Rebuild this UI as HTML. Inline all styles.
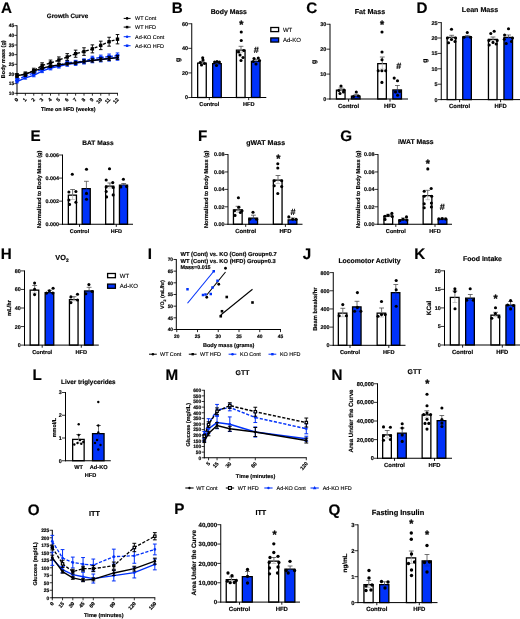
<!DOCTYPE html>
<html lang="en"><head><meta charset="utf-8"><title>Figure</title>
<style>
html,body{margin:0;padding:0;background:#fff;}
svg{display:block;}
text{font-family:"Liberation Sans",sans-serif;font-weight:700;stroke:#000;stroke-width:.17px;text-rendering:geometricPrecision;}
text.r{font-weight:400;stroke-width:.12px;}
</style></head><body>
<svg width="520" height="619" viewBox="0 0 520 619">
<defs><filter id="soft" x="0" y="0" width="520" height="619" filterUnits="userSpaceOnUse"><feGaussianBlur stdDeviation="0.37"/></filter></defs>
<rect width="520" height="619" fill="#fff"/>
<g filter="url(#soft)">
<text x="1" y="12.74" font-size="15.2" text-anchor="start">A</text>
<text x="67.5" y="17.75" font-size="6.28" text-anchor="middle">Growth Curve</text>
<line x1="14.4" y1="93.3" x2="17" y2="93.3" stroke="#000" stroke-width="0.8"/>
<text x="14.3" y="95.05" font-size="4.9" text-anchor="end">10</text>
<line x1="14.4" y1="83.64" x2="17" y2="83.64" stroke="#000" stroke-width="0.8"/>
<text x="14.3" y="85.39" font-size="4.9" text-anchor="end">15</text>
<line x1="14.4" y1="73.98" x2="17" y2="73.98" stroke="#000" stroke-width="0.8"/>
<text x="14.3" y="75.73" font-size="4.9" text-anchor="end">20</text>
<line x1="14.4" y1="64.32" x2="17" y2="64.32" stroke="#000" stroke-width="0.8"/>
<text x="14.3" y="66.07" font-size="4.9" text-anchor="end">25</text>
<line x1="14.4" y1="54.66" x2="17" y2="54.66" stroke="#000" stroke-width="0.8"/>
<text x="14.3" y="56.41" font-size="4.9" text-anchor="end">30</text>
<line x1="14.4" y1="45" x2="17" y2="45" stroke="#000" stroke-width="0.8"/>
<text x="14.3" y="46.75" font-size="4.9" text-anchor="end">35</text>
<line x1="14.4" y1="35.34" x2="17" y2="35.34" stroke="#000" stroke-width="0.8"/>
<text x="14.3" y="37.09" font-size="4.9" text-anchor="end">40</text>
<line x1="14.4" y1="25.68" x2="17" y2="25.68" stroke="#000" stroke-width="0.8"/>
<text x="14.3" y="27.43" font-size="4.9" text-anchor="end">45</text>
<line x1="17" y1="25.28" x2="17" y2="93.8" stroke="#000" stroke-width="1"/>
<line x1="16.5" y1="93.3" x2="118" y2="93.3" stroke="#000" stroke-width="1"/>
<line x1="17" y1="93.3" x2="17" y2="95.7" stroke="#000" stroke-width="0.8"/>
<text x="17.3" y="100.36" font-size="5.2" text-anchor="end" transform="rotate(-48 17.3 98.5)">0</text>
<line x1="25.38" y1="93.3" x2="25.38" y2="95.7" stroke="#000" stroke-width="0.8"/>
<text x="25.68" y="100.36" font-size="5.2" text-anchor="end" transform="rotate(-48 25.68 98.5)">1</text>
<line x1="33.75" y1="93.3" x2="33.75" y2="95.7" stroke="#000" stroke-width="0.8"/>
<text x="34.05" y="100.36" font-size="5.2" text-anchor="end" transform="rotate(-48 34.05 98.5)">2</text>
<line x1="42.12" y1="93.3" x2="42.12" y2="95.7" stroke="#000" stroke-width="0.8"/>
<text x="42.42" y="100.36" font-size="5.2" text-anchor="end" transform="rotate(-48 42.42 98.5)">3</text>
<line x1="50.5" y1="93.3" x2="50.5" y2="95.7" stroke="#000" stroke-width="0.8"/>
<text x="50.8" y="100.36" font-size="5.2" text-anchor="end" transform="rotate(-48 50.8 98.5)">4</text>
<line x1="58.88" y1="93.3" x2="58.88" y2="95.7" stroke="#000" stroke-width="0.8"/>
<text x="59.17" y="100.36" font-size="5.2" text-anchor="end" transform="rotate(-48 59.17 98.5)">5</text>
<line x1="67.25" y1="93.3" x2="67.25" y2="95.7" stroke="#000" stroke-width="0.8"/>
<text x="67.55" y="100.36" font-size="5.2" text-anchor="end" transform="rotate(-48 67.55 98.5)">6</text>
<line x1="75.62" y1="93.3" x2="75.62" y2="95.7" stroke="#000" stroke-width="0.8"/>
<text x="75.92" y="100.36" font-size="5.2" text-anchor="end" transform="rotate(-48 75.92 98.5)">7</text>
<line x1="84" y1="93.3" x2="84" y2="95.7" stroke="#000" stroke-width="0.8"/>
<text x="84.3" y="100.36" font-size="5.2" text-anchor="end" transform="rotate(-48 84.3 98.5)">8</text>
<line x1="92.38" y1="93.3" x2="92.38" y2="95.7" stroke="#000" stroke-width="0.8"/>
<text x="92.67" y="100.36" font-size="5.2" text-anchor="end" transform="rotate(-48 92.67 98.5)">9</text>
<line x1="100.75" y1="93.3" x2="100.75" y2="95.7" stroke="#000" stroke-width="0.8"/>
<text x="101.05" y="100.36" font-size="5.2" text-anchor="end" transform="rotate(-48 101.05 98.5)">10</text>
<line x1="109.12" y1="93.3" x2="109.12" y2="95.7" stroke="#000" stroke-width="0.8"/>
<text x="109.42" y="100.36" font-size="5.2" text-anchor="end" transform="rotate(-48 109.42 98.5)">11</text>
<line x1="117.5" y1="93.3" x2="117.5" y2="95.7" stroke="#000" stroke-width="0.8"/>
<text x="117.8" y="100.36" font-size="5.2" text-anchor="end" transform="rotate(-48 117.8 98.5)">12</text>
<text x="2.9" y="61.26" font-size="5.47" text-anchor="middle" transform="rotate(-90 2.9 59.3)">Body mass (g)</text>
<text x="68.3" y="111.03" font-size="5.4" text-anchor="middle">Time on HFD (weeks)</text>
<line x1="17" y1="80.54" x2="17" y2="82.88" stroke="#0230fa" stroke-width="0.95"/>
<line x1="15.2" y1="80.54" x2="18.8" y2="80.54" stroke="#0230fa" stroke-width="0.95"/>
<line x1="15.2" y1="82.88" x2="18.8" y2="82.88" stroke="#0230fa" stroke-width="0.95"/>
<line x1="25.38" y1="76.55" x2="25.38" y2="79.14" stroke="#0230fa" stroke-width="0.95"/>
<line x1="23.57" y1="76.55" x2="27.18" y2="76.55" stroke="#0230fa" stroke-width="0.95"/>
<line x1="23.57" y1="79.14" x2="27.18" y2="79.14" stroke="#0230fa" stroke-width="0.95"/>
<line x1="33.75" y1="73.91" x2="33.75" y2="76.76" stroke="#0230fa" stroke-width="0.95"/>
<line x1="31.95" y1="73.91" x2="35.55" y2="73.91" stroke="#0230fa" stroke-width="0.95"/>
<line x1="31.95" y1="76.76" x2="35.55" y2="76.76" stroke="#0230fa" stroke-width="0.95"/>
<line x1="42.12" y1="69.53" x2="42.12" y2="72.63" stroke="#0230fa" stroke-width="0.95"/>
<line x1="40.33" y1="69.53" x2="43.92" y2="69.53" stroke="#0230fa" stroke-width="0.95"/>
<line x1="40.33" y1="72.63" x2="43.92" y2="72.63" stroke="#0230fa" stroke-width="0.95"/>
<line x1="50.5" y1="66.51" x2="50.5" y2="69.86" stroke="#0230fa" stroke-width="0.95"/>
<line x1="48.7" y1="66.51" x2="52.3" y2="66.51" stroke="#0230fa" stroke-width="0.95"/>
<line x1="48.7" y1="69.86" x2="52.3" y2="69.86" stroke="#0230fa" stroke-width="0.95"/>
<line x1="58.88" y1="64.45" x2="58.88" y2="68.06" stroke="#0230fa" stroke-width="0.95"/>
<line x1="57.08" y1="64.45" x2="60.67" y2="64.45" stroke="#0230fa" stroke-width="0.95"/>
<line x1="57.08" y1="68.06" x2="60.67" y2="68.06" stroke="#0230fa" stroke-width="0.95"/>
<line x1="67.25" y1="62.39" x2="67.25" y2="66.25" stroke="#0230fa" stroke-width="0.95"/>
<line x1="65.45" y1="62.39" x2="69.05" y2="62.39" stroke="#0230fa" stroke-width="0.95"/>
<line x1="65.45" y1="66.25" x2="69.05" y2="66.25" stroke="#0230fa" stroke-width="0.95"/>
<line x1="75.62" y1="61.29" x2="75.62" y2="65.42" stroke="#0230fa" stroke-width="0.95"/>
<line x1="73.83" y1="61.29" x2="77.42" y2="61.29" stroke="#0230fa" stroke-width="0.95"/>
<line x1="73.83" y1="65.42" x2="77.42" y2="65.42" stroke="#0230fa" stroke-width="0.95"/>
<line x1="84" y1="59.62" x2="84" y2="64" stroke="#0230fa" stroke-width="0.95"/>
<line x1="82.2" y1="59.62" x2="85.8" y2="59.62" stroke="#0230fa" stroke-width="0.95"/>
<line x1="82.2" y1="64" x2="85.8" y2="64" stroke="#0230fa" stroke-width="0.95"/>
<line x1="92.38" y1="58.14" x2="92.38" y2="62.77" stroke="#0230fa" stroke-width="0.95"/>
<line x1="90.58" y1="58.14" x2="94.17" y2="58.14" stroke="#0230fa" stroke-width="0.95"/>
<line x1="90.58" y1="62.77" x2="94.17" y2="62.77" stroke="#0230fa" stroke-width="0.95"/>
<line x1="100.75" y1="57.05" x2="100.75" y2="61.93" stroke="#0230fa" stroke-width="0.95"/>
<line x1="98.95" y1="57.05" x2="102.55" y2="57.05" stroke="#0230fa" stroke-width="0.95"/>
<line x1="98.95" y1="61.93" x2="102.55" y2="61.93" stroke="#0230fa" stroke-width="0.95"/>
<line x1="109.12" y1="55.95" x2="109.12" y2="61.1" stroke="#0230fa" stroke-width="0.95"/>
<line x1="107.33" y1="55.95" x2="110.92" y2="55.95" stroke="#0230fa" stroke-width="0.95"/>
<line x1="107.33" y1="61.1" x2="110.92" y2="61.1" stroke="#0230fa" stroke-width="0.95"/>
<line x1="117.5" y1="54.86" x2="117.5" y2="60.26" stroke="#0230fa" stroke-width="0.95"/>
<line x1="115.7" y1="54.86" x2="119.3" y2="54.86" stroke="#0230fa" stroke-width="0.95"/>
<line x1="115.7" y1="60.26" x2="119.3" y2="60.26" stroke="#0230fa" stroke-width="0.95"/>
<polyline points="17,81.71 25.38,77.84 33.75,75.33 42.12,71.08 50.5,68.18 58.88,66.25 67.25,64.32 75.62,63.35 84,61.81 92.38,60.46 100.75,59.49 109.12,58.52 117.5,57.56" fill="none" stroke="#0230fa" stroke-width="1.35"/>
<circle cx="17" cy="81.71" r="1.45" fill="#0230fa"/>
<circle cx="25.38" cy="77.84" r="1.45" fill="#0230fa"/>
<circle cx="33.75" cy="75.33" r="1.45" fill="#0230fa"/>
<circle cx="42.12" cy="71.08" r="1.45" fill="#0230fa"/>
<circle cx="50.5" cy="68.18" r="1.45" fill="#0230fa"/>
<circle cx="58.88" cy="66.25" r="1.45" fill="#0230fa"/>
<circle cx="67.25" cy="64.32" r="1.45" fill="#0230fa"/>
<circle cx="75.62" cy="63.35" r="1.45" fill="#0230fa"/>
<circle cx="84" cy="61.81" r="1.45" fill="#0230fa"/>
<circle cx="92.38" cy="60.46" r="1.45" fill="#0230fa"/>
<circle cx="100.75" cy="59.49" r="1.45" fill="#0230fa"/>
<circle cx="109.12" cy="58.52" r="1.45" fill="#0230fa"/>
<circle cx="117.5" cy="57.56" r="1.45" fill="#0230fa"/>
<line x1="17" y1="78.61" x2="17" y2="80.94" stroke="#0230fa" stroke-width="0.95"/>
<line x1="15.2" y1="78.61" x2="18.8" y2="78.61" stroke="#0230fa" stroke-width="0.95"/>
<line x1="15.2" y1="80.94" x2="18.8" y2="80.94" stroke="#0230fa" stroke-width="0.95"/>
<line x1="25.38" y1="74.62" x2="25.38" y2="77.21" stroke="#0230fa" stroke-width="0.95"/>
<line x1="23.57" y1="74.62" x2="27.18" y2="74.62" stroke="#0230fa" stroke-width="0.95"/>
<line x1="23.57" y1="77.21" x2="27.18" y2="77.21" stroke="#0230fa" stroke-width="0.95"/>
<line x1="33.75" y1="71.59" x2="33.75" y2="74.44" stroke="#0230fa" stroke-width="0.95"/>
<line x1="31.95" y1="71.59" x2="35.55" y2="71.59" stroke="#0230fa" stroke-width="0.95"/>
<line x1="31.95" y1="74.44" x2="35.55" y2="74.44" stroke="#0230fa" stroke-width="0.95"/>
<line x1="42.12" y1="67.6" x2="42.12" y2="70.7" stroke="#0230fa" stroke-width="0.95"/>
<line x1="40.33" y1="67.6" x2="43.92" y2="67.6" stroke="#0230fa" stroke-width="0.95"/>
<line x1="40.33" y1="70.7" x2="43.92" y2="70.7" stroke="#0230fa" stroke-width="0.95"/>
<line x1="50.5" y1="65.54" x2="50.5" y2="68.9" stroke="#0230fa" stroke-width="0.95"/>
<line x1="48.7" y1="65.54" x2="52.3" y2="65.54" stroke="#0230fa" stroke-width="0.95"/>
<line x1="48.7" y1="68.9" x2="52.3" y2="68.9" stroke="#0230fa" stroke-width="0.95"/>
<line x1="58.88" y1="63.48" x2="58.88" y2="67.09" stroke="#0230fa" stroke-width="0.95"/>
<line x1="57.08" y1="63.48" x2="60.67" y2="63.48" stroke="#0230fa" stroke-width="0.95"/>
<line x1="57.08" y1="67.09" x2="60.67" y2="67.09" stroke="#0230fa" stroke-width="0.95"/>
<line x1="67.25" y1="60.45" x2="67.25" y2="64.32" stroke="#0230fa" stroke-width="0.95"/>
<line x1="65.45" y1="60.45" x2="69.05" y2="60.45" stroke="#0230fa" stroke-width="0.95"/>
<line x1="65.45" y1="64.32" x2="69.05" y2="64.32" stroke="#0230fa" stroke-width="0.95"/>
<line x1="75.62" y1="60.33" x2="75.62" y2="64.45" stroke="#0230fa" stroke-width="0.95"/>
<line x1="73.83" y1="60.33" x2="77.42" y2="60.33" stroke="#0230fa" stroke-width="0.95"/>
<line x1="73.83" y1="64.45" x2="77.42" y2="64.45" stroke="#0230fa" stroke-width="0.95"/>
<line x1="84" y1="58.85" x2="84" y2="63.22" stroke="#0230fa" stroke-width="0.95"/>
<line x1="82.2" y1="58.85" x2="85.8" y2="58.85" stroke="#0230fa" stroke-width="0.95"/>
<line x1="82.2" y1="63.22" x2="85.8" y2="63.22" stroke="#0230fa" stroke-width="0.95"/>
<line x1="92.38" y1="56.21" x2="92.38" y2="60.84" stroke="#0230fa" stroke-width="0.95"/>
<line x1="90.58" y1="56.21" x2="94.17" y2="56.21" stroke="#0230fa" stroke-width="0.95"/>
<line x1="90.58" y1="60.84" x2="94.17" y2="60.84" stroke="#0230fa" stroke-width="0.95"/>
<line x1="100.75" y1="55.11" x2="100.75" y2="60" stroke="#0230fa" stroke-width="0.95"/>
<line x1="98.95" y1="55.11" x2="102.55" y2="55.11" stroke="#0230fa" stroke-width="0.95"/>
<line x1="98.95" y1="60" x2="102.55" y2="60" stroke="#0230fa" stroke-width="0.95"/>
<line x1="109.12" y1="54.02" x2="109.12" y2="59.16" stroke="#0230fa" stroke-width="0.95"/>
<line x1="107.33" y1="54.02" x2="110.92" y2="54.02" stroke="#0230fa" stroke-width="0.95"/>
<line x1="107.33" y1="59.16" x2="110.92" y2="59.16" stroke="#0230fa" stroke-width="0.95"/>
<line x1="117.5" y1="52.93" x2="117.5" y2="58.33" stroke="#0230fa" stroke-width="0.95"/>
<line x1="115.7" y1="52.93" x2="119.3" y2="52.93" stroke="#0230fa" stroke-width="0.95"/>
<line x1="115.7" y1="58.33" x2="119.3" y2="58.33" stroke="#0230fa" stroke-width="0.95"/>
<polyline points="17,79.78 25.38,75.91 33.75,73.01 42.12,69.15 50.5,67.22 58.88,65.29 67.25,62.39 75.62,62.39 84,61.04 92.38,58.52 100.75,57.56 109.12,56.59 117.5,55.63" fill="none" stroke="#0230fa" stroke-width="1.35" stroke-dasharray="3 1.6"/>
<rect x="15.3" y="78.08" width="3.4" height="3.4" fill="#0230fa"/>
<rect x="23.68" y="74.21" width="3.4" height="3.4" fill="#0230fa"/>
<rect x="32.05" y="71.31" width="3.4" height="3.4" fill="#0230fa"/>
<rect x="40.42" y="67.45" width="3.4" height="3.4" fill="#0230fa"/>
<rect x="48.8" y="65.52" width="3.4" height="3.4" fill="#0230fa"/>
<rect x="57.17" y="63.59" width="3.4" height="3.4" fill="#0230fa"/>
<rect x="65.55" y="60.69" width="3.4" height="3.4" fill="#0230fa"/>
<rect x="73.92" y="60.69" width="3.4" height="3.4" fill="#0230fa"/>
<rect x="82.3" y="59.34" width="3.4" height="3.4" fill="#0230fa"/>
<rect x="90.67" y="56.82" width="3.4" height="3.4" fill="#0230fa"/>
<rect x="99.05" y="55.86" width="3.4" height="3.4" fill="#0230fa"/>
<rect x="107.42" y="54.89" width="3.4" height="3.4" fill="#0230fa"/>
<rect x="115.8" y="53.93" width="3.4" height="3.4" fill="#0230fa"/>
<line x1="17" y1="75.06" x2="17" y2="76.76" stroke="#000" stroke-width="0.95"/>
<line x1="15.2" y1="75.06" x2="18.8" y2="75.06" stroke="#000" stroke-width="0.95"/>
<line x1="15.2" y1="76.76" x2="18.8" y2="76.76" stroke="#000" stroke-width="0.95"/>
<line x1="25.38" y1="73.04" x2="25.38" y2="74.92" stroke="#000" stroke-width="0.95"/>
<line x1="23.57" y1="73.04" x2="27.18" y2="73.04" stroke="#000" stroke-width="0.95"/>
<line x1="23.57" y1="74.92" x2="27.18" y2="74.92" stroke="#000" stroke-width="0.95"/>
<line x1="33.75" y1="70.05" x2="33.75" y2="72.12" stroke="#000" stroke-width="0.95"/>
<line x1="31.95" y1="70.05" x2="35.55" y2="70.05" stroke="#000" stroke-width="0.95"/>
<line x1="31.95" y1="72.12" x2="35.55" y2="72.12" stroke="#000" stroke-width="0.95"/>
<line x1="42.12" y1="67.06" x2="42.12" y2="69.31" stroke="#000" stroke-width="0.95"/>
<line x1="40.33" y1="67.06" x2="43.92" y2="67.06" stroke="#000" stroke-width="0.95"/>
<line x1="40.33" y1="69.31" x2="43.92" y2="69.31" stroke="#000" stroke-width="0.95"/>
<line x1="50.5" y1="65.03" x2="50.5" y2="67.47" stroke="#000" stroke-width="0.95"/>
<line x1="48.7" y1="65.03" x2="52.3" y2="65.03" stroke="#000" stroke-width="0.95"/>
<line x1="48.7" y1="67.47" x2="52.3" y2="67.47" stroke="#000" stroke-width="0.95"/>
<line x1="58.88" y1="63.59" x2="58.88" y2="66.21" stroke="#000" stroke-width="0.95"/>
<line x1="57.08" y1="63.59" x2="60.67" y2="63.59" stroke="#000" stroke-width="0.95"/>
<line x1="57.08" y1="66.21" x2="60.67" y2="66.21" stroke="#000" stroke-width="0.95"/>
<line x1="67.25" y1="62.33" x2="67.25" y2="65.15" stroke="#000" stroke-width="0.95"/>
<line x1="65.45" y1="62.33" x2="69.05" y2="62.33" stroke="#000" stroke-width="0.95"/>
<line x1="65.45" y1="65.15" x2="69.05" y2="65.15" stroke="#000" stroke-width="0.95"/>
<line x1="75.62" y1="61.28" x2="75.62" y2="64.27" stroke="#000" stroke-width="0.95"/>
<line x1="73.83" y1="61.28" x2="77.42" y2="61.28" stroke="#000" stroke-width="0.95"/>
<line x1="73.83" y1="64.27" x2="77.42" y2="64.27" stroke="#000" stroke-width="0.95"/>
<line x1="84" y1="59.83" x2="84" y2="63.01" stroke="#000" stroke-width="0.95"/>
<line x1="82.2" y1="59.83" x2="85.8" y2="59.83" stroke="#000" stroke-width="0.95"/>
<line x1="82.2" y1="63.01" x2="85.8" y2="63.01" stroke="#000" stroke-width="0.95"/>
<line x1="92.38" y1="58.77" x2="92.38" y2="62.14" stroke="#000" stroke-width="0.95"/>
<line x1="90.58" y1="58.77" x2="94.17" y2="58.77" stroke="#000" stroke-width="0.95"/>
<line x1="90.58" y1="62.14" x2="94.17" y2="62.14" stroke="#000" stroke-width="0.95"/>
<line x1="100.75" y1="57.71" x2="100.75" y2="61.27" stroke="#000" stroke-width="0.95"/>
<line x1="98.95" y1="57.71" x2="102.55" y2="57.71" stroke="#000" stroke-width="0.95"/>
<line x1="98.95" y1="61.27" x2="102.55" y2="61.27" stroke="#000" stroke-width="0.95"/>
<line x1="109.12" y1="56.65" x2="109.12" y2="60.39" stroke="#000" stroke-width="0.95"/>
<line x1="107.33" y1="56.65" x2="110.92" y2="56.65" stroke="#000" stroke-width="0.95"/>
<line x1="107.33" y1="60.39" x2="110.92" y2="60.39" stroke="#000" stroke-width="0.95"/>
<line x1="117.5" y1="55.6" x2="117.5" y2="59.52" stroke="#000" stroke-width="0.95"/>
<line x1="115.7" y1="55.6" x2="119.3" y2="55.6" stroke="#000" stroke-width="0.95"/>
<line x1="115.7" y1="59.52" x2="119.3" y2="59.52" stroke="#000" stroke-width="0.95"/>
<polyline points="17,75.91 25.38,73.98 33.75,71.08 42.12,68.18 50.5,66.25 58.88,64.9 67.25,63.74 75.62,62.77 84,61.42 92.38,60.46 100.75,59.49 109.12,58.52 117.5,57.56" fill="none" stroke="#000" stroke-width="1.35"/>
<circle cx="17" cy="75.91" r="1.45" fill="#000"/>
<circle cx="25.38" cy="73.98" r="1.45" fill="#000"/>
<circle cx="33.75" cy="71.08" r="1.45" fill="#000"/>
<circle cx="42.12" cy="68.18" r="1.45" fill="#000"/>
<circle cx="50.5" cy="66.25" r="1.45" fill="#000"/>
<circle cx="58.88" cy="64.9" r="1.45" fill="#000"/>
<circle cx="67.25" cy="63.74" r="1.45" fill="#000"/>
<circle cx="75.62" cy="62.77" r="1.45" fill="#000"/>
<circle cx="84" cy="61.42" r="1.45" fill="#000"/>
<circle cx="92.38" cy="60.46" r="1.45" fill="#000"/>
<circle cx="100.75" cy="59.49" r="1.45" fill="#000"/>
<circle cx="109.12" cy="58.52" r="1.45" fill="#000"/>
<circle cx="117.5" cy="57.56" r="1.45" fill="#000"/>
<line x1="17" y1="73.51" x2="17" y2="77.54" stroke="#000" stroke-width="0.95"/>
<line x1="15.2" y1="73.51" x2="18.8" y2="73.51" stroke="#000" stroke-width="0.95"/>
<line x1="15.2" y1="77.54" x2="18.8" y2="77.54" stroke="#000" stroke-width="0.95"/>
<line x1="25.38" y1="71.93" x2="25.38" y2="76.41" stroke="#000" stroke-width="0.95"/>
<line x1="23.57" y1="71.93" x2="27.18" y2="71.93" stroke="#000" stroke-width="0.95"/>
<line x1="23.57" y1="76.41" x2="27.18" y2="76.41" stroke="#000" stroke-width="0.95"/>
<line x1="33.75" y1="68.24" x2="33.75" y2="73.16" stroke="#000" stroke-width="0.95"/>
<line x1="31.95" y1="68.24" x2="35.55" y2="68.24" stroke="#000" stroke-width="0.95"/>
<line x1="31.95" y1="73.16" x2="35.55" y2="73.16" stroke="#000" stroke-width="0.95"/>
<line x1="42.12" y1="62.8" x2="42.12" y2="68.16" stroke="#000" stroke-width="0.95"/>
<line x1="40.33" y1="62.8" x2="43.92" y2="62.8" stroke="#000" stroke-width="0.95"/>
<line x1="40.33" y1="68.16" x2="43.92" y2="68.16" stroke="#000" stroke-width="0.95"/>
<line x1="50.5" y1="60.07" x2="50.5" y2="65.87" stroke="#000" stroke-width="0.95"/>
<line x1="48.7" y1="60.07" x2="52.3" y2="60.07" stroke="#000" stroke-width="0.95"/>
<line x1="48.7" y1="65.87" x2="52.3" y2="65.87" stroke="#000" stroke-width="0.95"/>
<line x1="58.88" y1="56.95" x2="58.88" y2="63.19" stroke="#000" stroke-width="0.95"/>
<line x1="57.08" y1="56.95" x2="60.67" y2="56.95" stroke="#000" stroke-width="0.95"/>
<line x1="57.08" y1="63.19" x2="60.67" y2="63.19" stroke="#000" stroke-width="0.95"/>
<line x1="67.25" y1="53.64" x2="67.25" y2="60.32" stroke="#000" stroke-width="0.95"/>
<line x1="65.45" y1="53.64" x2="69.05" y2="53.64" stroke="#000" stroke-width="0.95"/>
<line x1="65.45" y1="60.32" x2="69.05" y2="60.32" stroke="#000" stroke-width="0.95"/>
<line x1="75.62" y1="50.13" x2="75.62" y2="57.25" stroke="#000" stroke-width="0.95"/>
<line x1="73.83" y1="50.13" x2="77.42" y2="50.13" stroke="#000" stroke-width="0.95"/>
<line x1="73.83" y1="57.25" x2="77.42" y2="57.25" stroke="#000" stroke-width="0.95"/>
<line x1="84" y1="47.79" x2="84" y2="55.35" stroke="#000" stroke-width="0.95"/>
<line x1="82.2" y1="47.79" x2="85.8" y2="47.79" stroke="#000" stroke-width="0.95"/>
<line x1="82.2" y1="55.35" x2="85.8" y2="55.35" stroke="#000" stroke-width="0.95"/>
<line x1="92.38" y1="44.86" x2="92.38" y2="52.87" stroke="#000" stroke-width="0.95"/>
<line x1="90.58" y1="44.86" x2="94.17" y2="44.86" stroke="#000" stroke-width="0.95"/>
<line x1="90.58" y1="52.87" x2="94.17" y2="52.87" stroke="#000" stroke-width="0.95"/>
<line x1="100.75" y1="41.16" x2="100.75" y2="49.61" stroke="#000" stroke-width="0.95"/>
<line x1="98.95" y1="41.16" x2="102.55" y2="41.16" stroke="#000" stroke-width="0.95"/>
<line x1="98.95" y1="49.61" x2="102.55" y2="49.61" stroke="#000" stroke-width="0.95"/>
<line x1="109.12" y1="37.27" x2="109.12" y2="46.16" stroke="#000" stroke-width="0.95"/>
<line x1="107.33" y1="37.27" x2="110.92" y2="37.27" stroke="#000" stroke-width="0.95"/>
<line x1="107.33" y1="46.16" x2="110.92" y2="46.16" stroke="#000" stroke-width="0.95"/>
<line x1="117.5" y1="34.54" x2="117.5" y2="43.87" stroke="#000" stroke-width="0.95"/>
<line x1="115.7" y1="34.54" x2="119.3" y2="34.54" stroke="#000" stroke-width="0.95"/>
<line x1="115.7" y1="43.87" x2="119.3" y2="43.87" stroke="#000" stroke-width="0.95"/>
<polyline points="17,75.53 25.38,74.17 33.75,70.7 42.12,65.48 50.5,62.97 58.88,60.07 67.25,56.98 75.62,53.69 84,51.57 92.38,48.86 100.75,45.39 109.12,41.72 117.5,39.2" fill="none" stroke="#000" stroke-width="1.35" stroke-dasharray="3 1.6"/>
<rect x="15.3" y="73.83" width="3.4" height="3.4" fill="#000"/>
<rect x="23.68" y="72.47" width="3.4" height="3.4" fill="#000"/>
<rect x="32.05" y="69" width="3.4" height="3.4" fill="#000"/>
<rect x="40.42" y="63.78" width="3.4" height="3.4" fill="#000"/>
<rect x="48.8" y="61.27" width="3.4" height="3.4" fill="#000"/>
<rect x="57.17" y="58.37" width="3.4" height="3.4" fill="#000"/>
<rect x="65.55" y="55.28" width="3.4" height="3.4" fill="#000"/>
<rect x="73.92" y="51.99" width="3.4" height="3.4" fill="#000"/>
<rect x="82.3" y="49.87" width="3.4" height="3.4" fill="#000"/>
<rect x="90.67" y="47.16" width="3.4" height="3.4" fill="#000"/>
<rect x="99.05" y="43.69" width="3.4" height="3.4" fill="#000"/>
<rect x="107.42" y="40.02" width="3.4" height="3.4" fill="#000"/>
<rect x="115.8" y="37.5" width="3.4" height="3.4" fill="#000"/>
<line x1="123.7" y1="18.4" x2="130.6" y2="18.4" stroke="#000" stroke-width="1"/>
<circle cx="127.1" cy="18.4" r="1.3" fill="#000"/>
<text x="135" y="20.35" font-size="5.45" text-anchor="start" class="r">WT Cont</text>
<line x1="123.7" y1="27.1" x2="130.6" y2="27.1" stroke="#000" stroke-width="1"/>
<rect x="125.85" y="25.85" width="2.5" height="2.5" fill="#000"/>
<text x="135" y="29.05" font-size="5.45" text-anchor="start" class="r">WT HFD</text>
<line x1="123.7" y1="36.7" x2="130.6" y2="36.7" stroke="#0230fa" stroke-width="1"/>
<circle cx="127.1" cy="36.7" r="1.3" fill="#0230fa"/>
<text x="135" y="38.65" font-size="5.45" text-anchor="start" class="r">Ad-KO Cont</text>
<line x1="123.7" y1="45.7" x2="130.6" y2="45.7" stroke="#0230fa" stroke-width="1"/>
<rect x="125.85" y="44.45" width="2.5" height="2.5" fill="#0230fa"/>
<text x="135" y="47.65" font-size="5.45" text-anchor="start" class="r">Ad-KO HFD</text>
<text x="171.7" y="13.14" font-size="15.2" text-anchor="start">B</text>
<text x="228.8" y="13.76" font-size="6.88" text-anchor="middle">Body Mass</text>
<line x1="188.25" y1="97.5" x2="191.75" y2="97.5" stroke="#000" stroke-width="0.8"/>
<text x="188.15" y="99.45" font-size="5.45" text-anchor="end">0</text>
<line x1="188.25" y1="72.92" x2="191.75" y2="72.92" stroke="#000" stroke-width="0.8"/>
<text x="188.15" y="74.87" font-size="5.45" text-anchor="end">20</text>
<line x1="188.25" y1="48.33" x2="191.75" y2="48.33" stroke="#000" stroke-width="0.8"/>
<text x="188.15" y="50.28" font-size="5.45" text-anchor="end">40</text>
<line x1="188.25" y1="23.75" x2="191.75" y2="23.75" stroke="#000" stroke-width="0.8"/>
<text x="188.15" y="25.7" font-size="5.45" text-anchor="end">60</text>
<line x1="191.75" y1="23.3" x2="191.75" y2="98" stroke="#000" stroke-width="1"/>
<rect x="197.65" y="63.15" width="8.6" height="34.35" fill="#fff" stroke="#000" stroke-width="1.3"/>
<rect x="212.65" y="63.65" width="8.6" height="33.85" fill="#0230fa" stroke="#000" stroke-width="1.3"/>
<rect x="236.45" y="50.15" width="8.6" height="47.35" fill="#fff" stroke="#000" stroke-width="1.3"/>
<rect x="251.45" y="61.4" width="8.6" height="36.1" fill="#0230fa" stroke="#000" stroke-width="1.3"/>
<line x1="191.25" y1="97.5" x2="266.3" y2="97.5" stroke="#000" stroke-width="1"/>
<line x1="209.3" y1="97.5" x2="209.3" y2="100.1" stroke="#000" stroke-width="0.9"/>
<text x="209.3" y="105.9" font-size="5.6" text-anchor="middle">Control</text>
<line x1="248.7" y1="97.5" x2="248.7" y2="100.1" stroke="#000" stroke-width="0.9"/>
<text x="248.7" y="105.9" font-size="5.6" text-anchor="middle">HFD</text>
<line x1="202.2" y1="62.5" x2="202.2" y2="63.7" stroke="#b4b4b4" stroke-width="0.7"/>
<line x1="199.9" y1="63.7" x2="204.5" y2="63.7" stroke="#b4b4b4" stroke-width="0.7"/>
<line x1="202.2" y1="61.3" x2="202.2" y2="62.5" stroke="#444" stroke-width="0.75"/>
<line x1="199.8" y1="61.3" x2="204.6" y2="61.3" stroke="#444" stroke-width="0.75"/>
<line x1="217.2" y1="63" x2="217.2" y2="63.8" stroke="#0a2fc0" stroke-width="0.7"/>
<line x1="214.9" y1="63.8" x2="219.5" y2="63.8" stroke="#0a2fc0" stroke-width="0.7"/>
<line x1="217.2" y1="62.2" x2="217.2" y2="63" stroke="#444" stroke-width="0.75"/>
<line x1="214.8" y1="62.2" x2="219.6" y2="62.2" stroke="#444" stroke-width="0.75"/>
<line x1="241" y1="49.5" x2="241" y2="52.7" stroke="#b4b4b4" stroke-width="0.7"/>
<line x1="238.7" y1="52.7" x2="243.3" y2="52.7" stroke="#b4b4b4" stroke-width="0.7"/>
<line x1="241" y1="46.3" x2="241" y2="49.5" stroke="#444" stroke-width="0.75"/>
<line x1="238.6" y1="46.3" x2="243.4" y2="46.3" stroke="#444" stroke-width="0.75"/>
<line x1="256" y1="60.75" x2="256" y2="62.2" stroke="#0a2fc0" stroke-width="0.7"/>
<line x1="253.7" y1="62.2" x2="258.3" y2="62.2" stroke="#0a2fc0" stroke-width="0.7"/>
<line x1="256" y1="59.3" x2="256" y2="60.75" stroke="#444" stroke-width="0.75"/>
<line x1="253.6" y1="59.3" x2="258.4" y2="59.3" stroke="#444" stroke-width="0.75"/>
<circle cx="241.25" cy="32" r="1.55" fill="#000"/>
<circle cx="241.25" cy="40.5" r="1.55" fill="#000"/>
<circle cx="200.2" cy="62.5" r="1.55" fill="#000"/>
<circle cx="203" cy="60" r="1.55" fill="#000"/>
<circle cx="204.5" cy="63.5" r="1.55" fill="#000"/>
<circle cx="201.5" cy="65" r="1.55" fill="#000"/>
<circle cx="202.7" cy="57.7" r="1.55" fill="#000"/>
<circle cx="214.6" cy="62" r="1.55" fill="#000"/>
<circle cx="217" cy="61.5" r="1.55" fill="#000"/>
<circle cx="219.4" cy="62" r="1.55" fill="#000"/>
<circle cx="216.5" cy="65.5" r="1.55" fill="#000"/>
<circle cx="238.5" cy="52" r="1.55" fill="#000"/>
<circle cx="243.8" cy="50.5" r="1.55" fill="#000"/>
<circle cx="240" cy="55" r="1.55" fill="#000"/>
<circle cx="243" cy="57.5" r="1.55" fill="#000"/>
<circle cx="241" cy="60.5" r="1.55" fill="#000"/>
<circle cx="254" cy="58.5" r="1.55" fill="#000"/>
<circle cx="258.3" cy="58" r="1.55" fill="#000"/>
<circle cx="253.3" cy="61.5" r="1.55" fill="#000"/>
<circle cx="256" cy="64" r="1.55" fill="#000"/>
<circle cx="259.5" cy="60.5" r="1.55" fill="#000"/>
<text x="241.25" y="27.68" font-size="10.6" text-anchor="middle" style="stroke-width:.4px" stroke-linejoin="round">*</text>
<text x="256.3" y="53.42" font-size="9" text-anchor="middle" stroke="#000" stroke-width="0.25">#</text>
<text x="177.2" y="62.43" font-size="6.8" text-anchor="middle" transform="rotate(-90 177.2 60)">g</text>
<rect x="270.8" y="27.5" width="7.8" height="4.1" fill="#fff" stroke="#000" stroke-width="1.3"/>
<rect x="270.8" y="37.95" width="7.8" height="4.1" fill="#0230fa" stroke="#000" stroke-width="1.3"/>
<text x="282.9" y="31.75" font-size="6" text-anchor="start" class="r">WT</text>
<text x="282.9" y="42.15" font-size="6" text-anchor="start" class="r">Ad-KO</text>
<text x="306.3" y="12.74" font-size="15.2" text-anchor="start">C</text>
<text x="370" y="13.85" font-size="7.13" text-anchor="middle">Fat Mass</text>
<line x1="326.5" y1="99" x2="330" y2="99" stroke="#000" stroke-width="0.8"/>
<text x="326.4" y="100.95" font-size="5.45" text-anchor="end">0</text>
<line x1="326.5" y1="74.08" x2="330" y2="74.08" stroke="#000" stroke-width="0.8"/>
<text x="326.4" y="76.03" font-size="5.45" text-anchor="end">10</text>
<line x1="326.5" y1="49.17" x2="330" y2="49.17" stroke="#000" stroke-width="0.8"/>
<text x="326.4" y="51.12" font-size="5.45" text-anchor="end">20</text>
<line x1="326.5" y1="24.25" x2="330" y2="24.25" stroke="#000" stroke-width="0.8"/>
<text x="326.4" y="26.2" font-size="5.45" text-anchor="end">30</text>
<line x1="330" y1="23.8" x2="330" y2="99.5" stroke="#000" stroke-width="1"/>
<rect x="336.45" y="90.15" width="8.6" height="8.85" fill="#fff" stroke="#000" stroke-width="1.3"/>
<rect x="351.45" y="96.15" width="8.6" height="2.85" fill="#0230fa" stroke="#000" stroke-width="1.3"/>
<rect x="377.75" y="63.65" width="8.6" height="35.35" fill="#fff" stroke="#000" stroke-width="1.3"/>
<rect x="392.85" y="89.95" width="8.6" height="9.05" fill="#0230fa" stroke="#000" stroke-width="1.3"/>
<line x1="329.5" y1="99" x2="408" y2="99" stroke="#000" stroke-width="1"/>
<line x1="348.6" y1="99" x2="348.6" y2="101.6" stroke="#000" stroke-width="0.9"/>
<text x="348.6" y="108.21" font-size="5.9" text-anchor="middle">Control</text>
<line x1="390" y1="99" x2="390" y2="101.6" stroke="#000" stroke-width="0.9"/>
<text x="390" y="108.21" font-size="5.9" text-anchor="middle">HFD</text>
<line x1="341" y1="89.5" x2="341" y2="91" stroke="#b4b4b4" stroke-width="0.7"/>
<line x1="338.7" y1="91" x2="343.3" y2="91" stroke="#b4b4b4" stroke-width="0.7"/>
<line x1="341" y1="88" x2="341" y2="89.5" stroke="#444" stroke-width="0.75"/>
<line x1="338.6" y1="88" x2="343.4" y2="88" stroke="#444" stroke-width="0.75"/>
<line x1="356" y1="95.5" x2="356" y2="96.7" stroke="#0a2fc0" stroke-width="0.7"/>
<line x1="353.7" y1="96.7" x2="358.3" y2="96.7" stroke="#0a2fc0" stroke-width="0.7"/>
<line x1="356" y1="94.3" x2="356" y2="95.5" stroke="#444" stroke-width="0.75"/>
<line x1="353.6" y1="94.3" x2="358.4" y2="94.3" stroke="#444" stroke-width="0.75"/>
<line x1="382.3" y1="63" x2="382.3" y2="69" stroke="#b4b4b4" stroke-width="0.7"/>
<line x1="380" y1="69" x2="384.6" y2="69" stroke="#b4b4b4" stroke-width="0.7"/>
<line x1="382.3" y1="57" x2="382.3" y2="63" stroke="#444" stroke-width="0.75"/>
<line x1="379.9" y1="57" x2="384.7" y2="57" stroke="#444" stroke-width="0.75"/>
<line x1="397.4" y1="89.3" x2="397.4" y2="93" stroke="#0a2fc0" stroke-width="0.7"/>
<line x1="395.1" y1="93" x2="399.7" y2="93" stroke="#0a2fc0" stroke-width="0.7"/>
<line x1="397.4" y1="85.5" x2="397.4" y2="89.3" stroke="#444" stroke-width="0.75"/>
<line x1="395" y1="85.5" x2="399.8" y2="85.5" stroke="#444" stroke-width="0.75"/>
<circle cx="382" cy="32" r="1.55" fill="#000"/>
<circle cx="382" cy="52" r="1.55" fill="#000"/>
<circle cx="338.8" cy="90.5" r="1.55" fill="#000"/>
<circle cx="341" cy="86" r="1.55" fill="#000"/>
<circle cx="343.5" cy="92" r="1.55" fill="#000"/>
<circle cx="340" cy="93.5" r="1.55" fill="#000"/>
<circle cx="344" cy="90" r="1.55" fill="#000"/>
<circle cx="353.5" cy="96.5" r="1.55" fill="#000"/>
<circle cx="356.3" cy="92" r="1.55" fill="#000"/>
<circle cx="358.5" cy="96" r="1.55" fill="#000"/>
<circle cx="378.2" cy="70.7" r="1.55" fill="#000"/>
<circle cx="381.9" cy="70.7" r="1.55" fill="#000"/>
<circle cx="385.7" cy="70.7" r="1.55" fill="#000"/>
<circle cx="381.9" cy="82.4" r="1.55" fill="#000"/>
<circle cx="382" cy="59.8" r="1.55" fill="#000"/>
<circle cx="394.2" cy="78.1" r="1.55" fill="#000"/>
<circle cx="397.5" cy="80.7" r="1.55" fill="#000"/>
<circle cx="395.5" cy="92" r="1.55" fill="#000"/>
<circle cx="399.7" cy="91.5" r="1.55" fill="#000"/>
<circle cx="397.6" cy="95.3" r="1.55" fill="#000"/>
<text x="382" y="27.68" font-size="10.6" text-anchor="middle" style="stroke-width:.4px" stroke-linejoin="round">*</text>
<text x="398.8" y="68.82" font-size="9" text-anchor="middle" stroke="#000" stroke-width="0.25">#</text>
<text x="313.8" y="64.43" font-size="6.8" text-anchor="middle" transform="rotate(-90 313.8 62)">g</text>
<text x="416.5" y="13.14" font-size="15.2" text-anchor="start">D</text>
<text x="480" y="11.84" font-size="7.1" text-anchor="middle">Lean Mass</text>
<line x1="437.75" y1="99.6" x2="441.25" y2="99.6" stroke="#000" stroke-width="0.8"/>
<text x="437.65" y="101.55" font-size="5.45" text-anchor="end">0</text>
<line x1="437.75" y1="84.2" x2="441.25" y2="84.2" stroke="#000" stroke-width="0.8"/>
<text x="437.65" y="86.15" font-size="5.45" text-anchor="end">5</text>
<line x1="437.75" y1="68.8" x2="441.25" y2="68.8" stroke="#000" stroke-width="0.8"/>
<text x="437.65" y="70.75" font-size="5.45" text-anchor="end">10</text>
<line x1="437.75" y1="53.4" x2="441.25" y2="53.4" stroke="#000" stroke-width="0.8"/>
<text x="437.65" y="55.35" font-size="5.45" text-anchor="end">15</text>
<line x1="437.75" y1="38" x2="441.25" y2="38" stroke="#000" stroke-width="0.8"/>
<text x="437.65" y="39.95" font-size="5.45" text-anchor="end">20</text>
<line x1="437.75" y1="22.6" x2="441.25" y2="22.6" stroke="#000" stroke-width="0.8"/>
<text x="437.65" y="24.55" font-size="5.45" text-anchor="end">25</text>
<line x1="441.25" y1="22.15" x2="441.25" y2="100.1" stroke="#000" stroke-width="1"/>
<rect x="447.15" y="37.4" width="8.6" height="62.2" fill="#fff" stroke="#000" stroke-width="1.3"/>
<rect x="462.75" y="36.9" width="8.6" height="62.7" fill="#0230fa" stroke="#000" stroke-width="1.3"/>
<rect x="488.45" y="39.4" width="8.6" height="60.2" fill="#fff" stroke="#000" stroke-width="1.3"/>
<rect x="503.95" y="37.4" width="8.6" height="62.2" fill="#0230fa" stroke="#000" stroke-width="1.3"/>
<line x1="440.75" y1="99.6" x2="520" y2="99.6" stroke="#000" stroke-width="1"/>
<line x1="459.6" y1="99.6" x2="459.6" y2="102.2" stroke="#000" stroke-width="0.9"/>
<text x="459.6" y="108.21" font-size="5.9" text-anchor="middle">Control</text>
<line x1="500.6" y1="99.6" x2="500.6" y2="102.2" stroke="#000" stroke-width="0.9"/>
<text x="500.6" y="108.21" font-size="5.9" text-anchor="middle">HFD</text>
<line x1="451.7" y1="36.75" x2="451.7" y2="38.2" stroke="#b4b4b4" stroke-width="0.7"/>
<line x1="449.4" y1="38.2" x2="454" y2="38.2" stroke="#b4b4b4" stroke-width="0.7"/>
<line x1="451.7" y1="35.3" x2="451.7" y2="36.75" stroke="#444" stroke-width="0.75"/>
<line x1="449.3" y1="35.3" x2="454.1" y2="35.3" stroke="#444" stroke-width="0.75"/>
<line x1="467.3" y1="36.25" x2="467.3" y2="37.1" stroke="#0a2fc0" stroke-width="0.7"/>
<line x1="465" y1="37.1" x2="469.6" y2="37.1" stroke="#0a2fc0" stroke-width="0.7"/>
<line x1="467.3" y1="35.4" x2="467.3" y2="36.25" stroke="#444" stroke-width="0.75"/>
<line x1="464.9" y1="35.4" x2="469.7" y2="35.4" stroke="#444" stroke-width="0.75"/>
<line x1="493" y1="38.75" x2="493" y2="40.5" stroke="#b4b4b4" stroke-width="0.7"/>
<line x1="490.7" y1="40.5" x2="495.3" y2="40.5" stroke="#b4b4b4" stroke-width="0.7"/>
<line x1="493" y1="37" x2="493" y2="38.75" stroke="#444" stroke-width="0.75"/>
<line x1="490.6" y1="37" x2="495.4" y2="37" stroke="#444" stroke-width="0.75"/>
<line x1="508.5" y1="36.75" x2="508.5" y2="38.5" stroke="#0a2fc0" stroke-width="0.7"/>
<line x1="506.2" y1="38.5" x2="510.8" y2="38.5" stroke="#0a2fc0" stroke-width="0.7"/>
<line x1="508.5" y1="35" x2="508.5" y2="36.75" stroke="#444" stroke-width="0.75"/>
<line x1="506.1" y1="35" x2="510.9" y2="35" stroke="#444" stroke-width="0.75"/>
<circle cx="451.5" cy="29.3" r="1.55" fill="#000"/>
<circle cx="447.4" cy="38" r="1.55" fill="#000"/>
<circle cx="455.6" cy="38" r="1.55" fill="#000"/>
<circle cx="448.5" cy="42.7" r="1.55" fill="#000"/>
<circle cx="455" cy="41.5" r="1.55" fill="#000"/>
<circle cx="451.5" cy="39.5" r="1.55" fill="#000"/>
<circle cx="467.3" cy="32.5" r="1.55" fill="#000"/>
<circle cx="464" cy="37.3" r="1.55" fill="#000"/>
<circle cx="470.6" cy="37.3" r="1.55" fill="#000"/>
<circle cx="490.8" cy="33.5" r="1.55" fill="#000"/>
<circle cx="494.2" cy="31.2" r="1.55" fill="#000"/>
<circle cx="488.9" cy="40.4" r="1.55" fill="#000"/>
<circle cx="497.2" cy="40.4" r="1.55" fill="#000"/>
<circle cx="493" cy="42.4" r="1.55" fill="#000"/>
<circle cx="489.2" cy="45" r="1.55" fill="#000"/>
<circle cx="496.2" cy="44" r="1.55" fill="#000"/>
<circle cx="508.5" cy="28.8" r="1.55" fill="#000"/>
<circle cx="504.6" cy="35" r="1.55" fill="#000"/>
<circle cx="504.3" cy="39.3" r="1.55" fill="#000"/>
<circle cx="512.5" cy="38" r="1.55" fill="#000"/>
<circle cx="506.2" cy="43.5" r="1.55" fill="#000"/>
<circle cx="511.5" cy="41.5" r="1.55" fill="#000"/>
<text x="425" y="63.03" font-size="6.8" text-anchor="middle" transform="rotate(-90 425 60.6)">g</text>
<text x="30.5" y="141.04" font-size="15.2" text-anchor="start">E</text>
<text x="98" y="144.85" font-size="6.58" text-anchor="middle">BAT Mass</text>
<line x1="59" y1="224.25" x2="62.5" y2="224.25" stroke="#000" stroke-width="0.8"/>
<text x="58.9" y="226.17" font-size="5.35" text-anchor="end">0.000</text>
<line x1="59" y1="201.17" x2="62.5" y2="201.17" stroke="#000" stroke-width="0.8"/>
<text x="58.9" y="203.08" font-size="5.35" text-anchor="end">0.002</text>
<line x1="59" y1="178.08" x2="62.5" y2="178.08" stroke="#000" stroke-width="0.8"/>
<text x="58.9" y="180" font-size="5.35" text-anchor="end">0.004</text>
<line x1="59" y1="155" x2="62.5" y2="155" stroke="#000" stroke-width="0.8"/>
<text x="58.9" y="156.92" font-size="5.35" text-anchor="end">0.006</text>
<line x1="62.5" y1="154.55" x2="62.5" y2="224.75" stroke="#000" stroke-width="1"/>
<rect x="68.35" y="195.15" width="8.1" height="29.1" fill="#fff" stroke="#000" stroke-width="1.3"/>
<rect x="82.15" y="188.65" width="8.1" height="35.6" fill="#0230fa" stroke="#000" stroke-width="1.3"/>
<rect x="105.65" y="186.15" width="8.1" height="38.1" fill="#fff" stroke="#000" stroke-width="1.3"/>
<rect x="119.45" y="185.15" width="8.1" height="39.1" fill="#0230fa" stroke="#000" stroke-width="1.3"/>
<line x1="62" y1="224.25" x2="133" y2="224.25" stroke="#000" stroke-width="1"/>
<line x1="79.5" y1="224.25" x2="79.5" y2="226.85" stroke="#000" stroke-width="0.9"/>
<text x="79.5" y="232.65" font-size="5.45" text-anchor="middle">Control</text>
<line x1="116.3" y1="224.25" x2="116.3" y2="226.85" stroke="#000" stroke-width="0.9"/>
<text x="116.3" y="232.65" font-size="5.45" text-anchor="middle">HFD</text>
<line x1="72.6" y1="194.5" x2="72.6" y2="199.5" stroke="#b4b4b4" stroke-width="0.7"/>
<line x1="70.3" y1="199.5" x2="74.9" y2="199.5" stroke="#b4b4b4" stroke-width="0.7"/>
<line x1="72.6" y1="189.5" x2="72.6" y2="194.5" stroke="#444" stroke-width="0.75"/>
<line x1="70.2" y1="189.5" x2="75" y2="189.5" stroke="#444" stroke-width="0.75"/>
<line x1="86.4" y1="188" x2="86.4" y2="194.7" stroke="#0a2fc0" stroke-width="0.7"/>
<line x1="84.1" y1="194.7" x2="88.7" y2="194.7" stroke="#0a2fc0" stroke-width="0.7"/>
<line x1="86.4" y1="181.3" x2="86.4" y2="188" stroke="#444" stroke-width="0.75"/>
<line x1="84" y1="181.3" x2="88.8" y2="181.3" stroke="#444" stroke-width="0.75"/>
<line x1="109.9" y1="185.5" x2="109.9" y2="188" stroke="#b4b4b4" stroke-width="0.7"/>
<line x1="107.6" y1="188" x2="112.2" y2="188" stroke="#b4b4b4" stroke-width="0.7"/>
<line x1="109.9" y1="183" x2="109.9" y2="185.5" stroke="#444" stroke-width="0.75"/>
<line x1="107.5" y1="183" x2="112.3" y2="183" stroke="#444" stroke-width="0.75"/>
<line x1="123.7" y1="184.5" x2="123.7" y2="185.5" stroke="#0a2fc0" stroke-width="0.7"/>
<line x1="121.4" y1="185.5" x2="126" y2="185.5" stroke="#0a2fc0" stroke-width="0.7"/>
<line x1="123.7" y1="183.5" x2="123.7" y2="184.5" stroke="#444" stroke-width="0.75"/>
<line x1="121.3" y1="183.5" x2="126.1" y2="183.5" stroke="#444" stroke-width="0.75"/>
<circle cx="72.3" cy="174.3" r="1.55" fill="#000"/>
<circle cx="68.9" cy="192" r="1.55" fill="#000"/>
<circle cx="75.9" cy="191.5" r="1.55" fill="#000"/>
<circle cx="68.9" cy="200" r="1.55" fill="#000"/>
<circle cx="75.9" cy="202.3" r="1.55" fill="#000"/>
<circle cx="69.5" cy="204.4" r="1.55" fill="#000"/>
<circle cx="86.5" cy="169.2" r="1.55" fill="#000"/>
<circle cx="86.5" cy="193.4" r="1.55" fill="#000"/>
<circle cx="86.5" cy="199.2" r="1.55" fill="#000"/>
<circle cx="109.5" cy="168.8" r="1.55" fill="#000"/>
<circle cx="106.2" cy="180" r="1.55" fill="#000"/>
<circle cx="112.8" cy="182.6" r="1.55" fill="#000"/>
<circle cx="106.2" cy="186.9" r="1.55" fill="#000"/>
<circle cx="113.2" cy="187.4" r="1.55" fill="#000"/>
<circle cx="106.2" cy="191.5" r="1.55" fill="#000"/>
<circle cx="113.2" cy="194.9" r="1.55" fill="#000"/>
<circle cx="106.6" cy="196.9" r="1.55" fill="#000"/>
<circle cx="123.4" cy="179.2" r="1.55" fill="#000"/>
<circle cx="120.8" cy="186.9" r="1.55" fill="#000"/>
<circle cx="126.6" cy="186.6" r="1.55" fill="#000"/>
<text x="38.8" y="191.32" font-size="5.65" text-anchor="middle" transform="rotate(-90 38.8 189.3)">Normalized to Body Mass (g)</text>
<text x="198" y="140.84" font-size="15.2" text-anchor="start">F</text>
<text x="265.7" y="145.01" font-size="7.01" text-anchor="middle">gWAT Mass</text>
<line x1="224.5" y1="224.25" x2="228" y2="224.25" stroke="#000" stroke-width="0.8"/>
<text x="224.4" y="226.18" font-size="5.4" text-anchor="end">0.00</text>
<line x1="224.5" y1="206.81" x2="228" y2="206.81" stroke="#000" stroke-width="0.8"/>
<text x="224.4" y="208.75" font-size="5.4" text-anchor="end">0.02</text>
<line x1="224.5" y1="189.38" x2="228" y2="189.38" stroke="#000" stroke-width="0.8"/>
<text x="224.4" y="191.31" font-size="5.4" text-anchor="end">0.04</text>
<line x1="224.5" y1="171.94" x2="228" y2="171.94" stroke="#000" stroke-width="0.8"/>
<text x="224.4" y="173.87" font-size="5.4" text-anchor="end">0.06</text>
<line x1="224.5" y1="154.5" x2="228" y2="154.5" stroke="#000" stroke-width="0.8"/>
<text x="224.4" y="156.43" font-size="5.4" text-anchor="end">0.08</text>
<line x1="228" y1="154.05" x2="228" y2="224.75" stroke="#000" stroke-width="1"/>
<rect x="233.45" y="209.9" width="8.7" height="14.35" fill="#fff" stroke="#000" stroke-width="1.3"/>
<rect x="248.85" y="218.15" width="8.7" height="6.1" fill="#0230fa" stroke="#000" stroke-width="1.3"/>
<rect x="273.35" y="180.15" width="8.7" height="44.1" fill="#fff" stroke="#000" stroke-width="1.3"/>
<rect x="288.15" y="219.9" width="8.7" height="4.35" fill="#0230fa" stroke="#000" stroke-width="1.3"/>
<line x1="227.5" y1="224.25" x2="302.5" y2="224.25" stroke="#000" stroke-width="1"/>
<line x1="245.7" y1="224.25" x2="245.7" y2="226.85" stroke="#000" stroke-width="0.9"/>
<text x="245.7" y="232.79" font-size="5.85" text-anchor="middle">Control</text>
<line x1="285.4" y1="224.25" x2="285.4" y2="226.85" stroke="#000" stroke-width="0.9"/>
<text x="285.4" y="232.79" font-size="5.85" text-anchor="middle">HFD</text>
<line x1="238" y1="209.25" x2="238" y2="212.2" stroke="#b4b4b4" stroke-width="0.7"/>
<line x1="235.7" y1="212.2" x2="240.3" y2="212.2" stroke="#b4b4b4" stroke-width="0.7"/>
<line x1="238" y1="206.3" x2="238" y2="209.25" stroke="#444" stroke-width="0.75"/>
<line x1="235.6" y1="206.3" x2="240.4" y2="206.3" stroke="#444" stroke-width="0.75"/>
<line x1="253.4" y1="217.5" x2="253.4" y2="219.8" stroke="#0a2fc0" stroke-width="0.7"/>
<line x1="251.1" y1="219.8" x2="255.7" y2="219.8" stroke="#0a2fc0" stroke-width="0.7"/>
<line x1="253.4" y1="215.2" x2="253.4" y2="217.5" stroke="#444" stroke-width="0.75"/>
<line x1="251" y1="215.2" x2="255.8" y2="215.2" stroke="#444" stroke-width="0.75"/>
<line x1="278" y1="179.5" x2="278" y2="183.5" stroke="#b4b4b4" stroke-width="0.7"/>
<line x1="275.7" y1="183.5" x2="280.3" y2="183.5" stroke="#b4b4b4" stroke-width="0.7"/>
<line x1="278" y1="175.5" x2="278" y2="179.5" stroke="#444" stroke-width="0.75"/>
<line x1="275.6" y1="175.5" x2="280.4" y2="175.5" stroke="#444" stroke-width="0.75"/>
<line x1="292.8" y1="219.25" x2="292.8" y2="220.5" stroke="#0a2fc0" stroke-width="0.7"/>
<line x1="290.5" y1="220.5" x2="295.1" y2="220.5" stroke="#0a2fc0" stroke-width="0.7"/>
<line x1="292.8" y1="218" x2="292.8" y2="219.25" stroke="#444" stroke-width="0.75"/>
<line x1="290.4" y1="218" x2="295.2" y2="218" stroke="#444" stroke-width="0.75"/>
<circle cx="238.4" cy="197.7" r="1.55" fill="#000"/>
<circle cx="238.8" cy="207.2" r="1.55" fill="#000"/>
<circle cx="234.5" cy="210.8" r="1.55" fill="#000"/>
<circle cx="242" cy="210.8" r="1.55" fill="#000"/>
<circle cx="235" cy="215.4" r="1.55" fill="#000"/>
<circle cx="240.4" cy="212.5" r="1.55" fill="#000"/>
<circle cx="253" cy="212.3" r="1.55" fill="#000"/>
<circle cx="249.8" cy="219.2" r="1.55" fill="#000"/>
<circle cx="256.6" cy="219.2" r="1.55" fill="#000"/>
<circle cx="277.8" cy="163.8" r="1.55" fill="#000"/>
<circle cx="277.8" cy="168" r="1.55" fill="#000"/>
<circle cx="274.2" cy="180.8" r="1.55" fill="#000"/>
<circle cx="281.7" cy="180.8" r="1.55" fill="#000"/>
<circle cx="274.2" cy="185.7" r="1.55" fill="#000"/>
<circle cx="281.7" cy="186.6" r="1.55" fill="#000"/>
<circle cx="277.8" cy="193.5" r="1.55" fill="#000"/>
<circle cx="288.8" cy="216.9" r="1.55" fill="#000"/>
<circle cx="292.7" cy="219.2" r="1.55" fill="#000"/>
<circle cx="296.1" cy="219.2" r="1.55" fill="#000"/>
<text x="278.3" y="162.48" font-size="10.6" text-anchor="middle" style="stroke-width:.4px" stroke-linejoin="round">*</text>
<text x="293" y="215.02" font-size="9" text-anchor="middle" stroke="#000" stroke-width="0.25">#</text>
<text x="206.3" y="191.32" font-size="5.65" text-anchor="middle" transform="rotate(-90 206.3 189.3)">Normalized to Body Mass (g)</text>
<text x="340.3" y="140.84" font-size="15.2" text-anchor="start">G</text>
<text x="415.8" y="144.46" font-size="6.88" text-anchor="middle">iWAT Mass</text>
<line x1="374.5" y1="224.25" x2="378" y2="224.25" stroke="#000" stroke-width="0.8"/>
<text x="374.4" y="226.18" font-size="5.4" text-anchor="end">0.00</text>
<line x1="374.5" y1="206.81" x2="378" y2="206.81" stroke="#000" stroke-width="0.8"/>
<text x="374.4" y="208.75" font-size="5.4" text-anchor="end">0.02</text>
<line x1="374.5" y1="189.38" x2="378" y2="189.38" stroke="#000" stroke-width="0.8"/>
<text x="374.4" y="191.31" font-size="5.4" text-anchor="end">0.04</text>
<line x1="374.5" y1="171.94" x2="378" y2="171.94" stroke="#000" stroke-width="0.8"/>
<text x="374.4" y="173.87" font-size="5.4" text-anchor="end">0.06</text>
<line x1="374.5" y1="154.5" x2="378" y2="154.5" stroke="#000" stroke-width="0.8"/>
<text x="374.4" y="156.43" font-size="5.4" text-anchor="end">0.08</text>
<line x1="378" y1="154.05" x2="378" y2="224.75" stroke="#000" stroke-width="1"/>
<rect x="383.95" y="216.15" width="8.7" height="8.1" fill="#fff" stroke="#000" stroke-width="1.3"/>
<rect x="398.85" y="219.9" width="8.7" height="4.35" fill="#0230fa" stroke="#000" stroke-width="1.3"/>
<rect x="423.15" y="195.65" width="8.7" height="28.6" fill="#fff" stroke="#000" stroke-width="1.3"/>
<rect x="438.15" y="219.4" width="8.7" height="4.85" fill="#0230fa" stroke="#000" stroke-width="1.3"/>
<line x1="377.5" y1="224.25" x2="452" y2="224.25" stroke="#000" stroke-width="1"/>
<line x1="395.8" y1="224.25" x2="395.8" y2="226.85" stroke="#000" stroke-width="0.9"/>
<text x="395.8" y="232.8" font-size="5.6" text-anchor="middle">Control</text>
<line x1="435" y1="224.25" x2="435" y2="226.85" stroke="#000" stroke-width="0.9"/>
<text x="435" y="232.8" font-size="5.6" text-anchor="middle">HFD</text>
<line x1="388.5" y1="215.5" x2="388.5" y2="216.7" stroke="#b4b4b4" stroke-width="0.7"/>
<line x1="386.2" y1="216.7" x2="390.8" y2="216.7" stroke="#b4b4b4" stroke-width="0.7"/>
<line x1="388.5" y1="214.3" x2="388.5" y2="215.5" stroke="#444" stroke-width="0.75"/>
<line x1="386.1" y1="214.3" x2="390.9" y2="214.3" stroke="#444" stroke-width="0.75"/>
<line x1="403.4" y1="219.25" x2="403.4" y2="220.5" stroke="#0a2fc0" stroke-width="0.7"/>
<line x1="401.1" y1="220.5" x2="405.7" y2="220.5" stroke="#0a2fc0" stroke-width="0.7"/>
<line x1="403.4" y1="218" x2="403.4" y2="219.25" stroke="#444" stroke-width="0.75"/>
<line x1="401" y1="218" x2="405.8" y2="218" stroke="#444" stroke-width="0.75"/>
<line x1="427.7" y1="195" x2="427.7" y2="199.7" stroke="#b4b4b4" stroke-width="0.7"/>
<line x1="425.4" y1="199.7" x2="430" y2="199.7" stroke="#b4b4b4" stroke-width="0.7"/>
<line x1="427.7" y1="190.3" x2="427.7" y2="195" stroke="#444" stroke-width="0.75"/>
<line x1="425.3" y1="190.3" x2="430.1" y2="190.3" stroke="#444" stroke-width="0.75"/>
<line x1="442.7" y1="218.75" x2="442.7" y2="219.4" stroke="#0a2fc0" stroke-width="0.7"/>
<line x1="440.4" y1="219.4" x2="445" y2="219.4" stroke="#0a2fc0" stroke-width="0.7"/>
<line x1="442.7" y1="218.2" x2="442.7" y2="218.75" stroke="#444" stroke-width="0.75"/>
<line x1="440.3" y1="218.2" x2="445.1" y2="218.2" stroke="#444" stroke-width="0.75"/>
<circle cx="385" cy="216.2" r="1.55" fill="#000"/>
<circle cx="388" cy="215.4" r="1.55" fill="#000"/>
<circle cx="391.9" cy="213.4" r="1.55" fill="#000"/>
<circle cx="392.3" cy="216.5" r="1.55" fill="#000"/>
<circle cx="385" cy="219.4" r="1.55" fill="#000"/>
<circle cx="399.9" cy="220.5" r="1.55" fill="#000"/>
<circle cx="403" cy="219.2" r="1.55" fill="#000"/>
<circle cx="406.5" cy="216.9" r="1.55" fill="#000"/>
<circle cx="406.9" cy="220" r="1.55" fill="#000"/>
<circle cx="427.8" cy="168.9" r="1.55" fill="#000"/>
<circle cx="424.2" cy="191.2" r="1.55" fill="#000"/>
<circle cx="431.2" cy="188.5" r="1.55" fill="#000"/>
<circle cx="424.2" cy="196.2" r="1.55" fill="#000"/>
<circle cx="431.7" cy="196.2" r="1.55" fill="#000"/>
<circle cx="424.2" cy="203.8" r="1.55" fill="#000"/>
<circle cx="431.4" cy="203.1" r="1.55" fill="#000"/>
<circle cx="424.2" cy="207.7" r="1.55" fill="#000"/>
<circle cx="431.4" cy="206.9" r="1.55" fill="#000"/>
<circle cx="438.8" cy="218.9" r="1.55" fill="#000"/>
<circle cx="442.2" cy="218.6" r="1.55" fill="#000"/>
<circle cx="445.8" cy="218.9" r="1.55" fill="#000"/>
<text x="427.8" y="167.18" font-size="10.6" text-anchor="middle" style="stroke-width:.4px" stroke-linejoin="round">*</text>
<text x="442.2" y="209.82" font-size="9" text-anchor="middle" stroke="#000" stroke-width="0.25">#</text>
<text x="357.5" y="191.32" font-size="5.65" text-anchor="middle" transform="rotate(-90 357.5 189.3)">Normalized to Body Mass (g)</text>
<text x="0.7" y="259.24" font-size="15.2" text-anchor="start">H</text>
<text x="62" y="260.21" font-size="7.3" text-anchor="middle">VO<tspan font-size="4.9" dy="1.7">2</tspan></text>
<line x1="21" y1="345.1" x2="24.5" y2="345.1" stroke="#000" stroke-width="0.8"/>
<text x="20.9" y="347.05" font-size="5.45" text-anchor="end">0</text>
<line x1="21" y1="326.55" x2="24.5" y2="326.55" stroke="#000" stroke-width="0.8"/>
<text x="20.9" y="328.5" font-size="5.45" text-anchor="end">20</text>
<line x1="21" y1="308" x2="24.5" y2="308" stroke="#000" stroke-width="0.8"/>
<text x="20.9" y="309.95" font-size="5.45" text-anchor="end">40</text>
<line x1="21" y1="289.45" x2="24.5" y2="289.45" stroke="#000" stroke-width="0.8"/>
<text x="20.9" y="291.4" font-size="5.45" text-anchor="end">60</text>
<line x1="21" y1="270.9" x2="24.5" y2="270.9" stroke="#000" stroke-width="0.8"/>
<text x="20.9" y="272.85" font-size="5.45" text-anchor="end">80</text>
<line x1="24.5" y1="270.45" x2="24.5" y2="345.6" stroke="#000" stroke-width="1"/>
<rect x="30.15" y="290.15" width="8.6" height="54.95" fill="#fff" stroke="#000" stroke-width="1.3"/>
<rect x="45.15" y="292.65" width="8.6" height="52.45" fill="#0230fa" stroke="#000" stroke-width="1.3"/>
<rect x="69.45" y="299.65" width="8.6" height="45.45" fill="#fff" stroke="#000" stroke-width="1.3"/>
<rect x="84.55" y="290.95" width="8.6" height="54.15" fill="#0230fa" stroke="#000" stroke-width="1.3"/>
<line x1="24" y1="345.1" x2="98.8" y2="345.1" stroke="#000" stroke-width="1"/>
<line x1="42.2" y1="345.1" x2="42.2" y2="347.7" stroke="#000" stroke-width="0.9"/>
<text x="42.2" y="353.5" font-size="5.6" text-anchor="middle">Control</text>
<line x1="81.3" y1="345.1" x2="81.3" y2="347.7" stroke="#000" stroke-width="0.9"/>
<text x="81.3" y="353.5" font-size="5.6" text-anchor="middle">HFD</text>
<line x1="34.7" y1="289.5" x2="34.7" y2="293" stroke="#b4b4b4" stroke-width="0.7"/>
<line x1="32.4" y1="293" x2="37" y2="293" stroke="#b4b4b4" stroke-width="0.7"/>
<line x1="34.7" y1="285.5" x2="34.7" y2="289.5" stroke="#444" stroke-width="0.75"/>
<line x1="32.3" y1="285.5" x2="37.1" y2="285.5" stroke="#444" stroke-width="0.75"/>
<line x1="49.7" y1="292" x2="49.7" y2="293.2" stroke="#0a2fc0" stroke-width="0.7"/>
<line x1="47.4" y1="293.2" x2="52" y2="293.2" stroke="#0a2fc0" stroke-width="0.7"/>
<line x1="49.7" y1="290.3" x2="49.7" y2="292" stroke="#444" stroke-width="0.75"/>
<line x1="47.3" y1="290.3" x2="52.1" y2="290.3" stroke="#444" stroke-width="0.75"/>
<line x1="74" y1="299" x2="74" y2="300.8" stroke="#b4b4b4" stroke-width="0.7"/>
<line x1="71.7" y1="300.8" x2="76.3" y2="300.8" stroke="#b4b4b4" stroke-width="0.7"/>
<line x1="74" y1="296.7" x2="74" y2="299" stroke="#444" stroke-width="0.75"/>
<line x1="71.6" y1="296.7" x2="76.4" y2="296.7" stroke="#444" stroke-width="0.75"/>
<line x1="89.1" y1="290.3" x2="89.1" y2="292.7" stroke="#0a2fc0" stroke-width="0.7"/>
<line x1="86.8" y1="292.7" x2="91.4" y2="292.7" stroke="#0a2fc0" stroke-width="0.7"/>
<line x1="89.1" y1="287.3" x2="89.1" y2="290.3" stroke="#444" stroke-width="0.75"/>
<line x1="86.7" y1="287.3" x2="91.5" y2="287.3" stroke="#444" stroke-width="0.75"/>
<circle cx="34.6" cy="283.1" r="1.55" fill="#000"/>
<circle cx="34.6" cy="289.2" r="1.55" fill="#000"/>
<circle cx="34.6" cy="294.6" r="1.55" fill="#000"/>
<circle cx="53.1" cy="288.2" r="1.55" fill="#000"/>
<circle cx="49.4" cy="290.8" r="1.55" fill="#000"/>
<circle cx="46.6" cy="293.1" r="1.55" fill="#000"/>
<circle cx="52.9" cy="293.1" r="1.55" fill="#000"/>
<circle cx="70.9" cy="296.9" r="1.55" fill="#000"/>
<circle cx="77.5" cy="294.3" r="1.55" fill="#000"/>
<circle cx="70.9" cy="302.6" r="1.55" fill="#000"/>
<circle cx="77.5" cy="300" r="1.55" fill="#000"/>
<circle cx="88.9" cy="284.6" r="1.55" fill="#000"/>
<circle cx="85.8" cy="293.8" r="1.55" fill="#000"/>
<circle cx="92.2" cy="291.5" r="1.55" fill="#000"/>
<text x="9.4" y="310.04" font-size="5.69" text-anchor="middle" transform="rotate(-90 9.4 308)">mL/hr</text>
<rect x="107.6" y="273.5" width="7.8" height="4.2" fill="#fff" stroke="#000" stroke-width="1.3"/>
<rect x="107.6" y="284.1" width="7.8" height="4.2" fill="#0230fa" stroke="#000" stroke-width="1.3"/>
<text x="119.8" y="277.75" font-size="6" text-anchor="start" class="r">WT</text>
<text x="119.8" y="288.35" font-size="6" text-anchor="start" class="r">Ad-KO</text>
<text x="147.8" y="259.04" font-size="15.2" text-anchor="start">I</text>
<text x="180.5" y="255.87" font-size="5.78" text-anchor="start">WT (Cont) vs. KO (Cont) Group=0.7</text>
<text x="180.5" y="262.57" font-size="5.79" text-anchor="start">WT (Cont) vs. KO (HFD) Group=0.3</text>
<text x="180.5" y="269.03" font-size="5.4" text-anchor="start">Mass=0.015</text>
<line x1="173.5" y1="329.5" x2="176.3" y2="329.5" stroke="#000" stroke-width="0.85"/>
<text x="173.1" y="331.25" font-size="4.9" text-anchor="end">40</text>
<line x1="173.5" y1="317.83" x2="176.3" y2="317.83" stroke="#000" stroke-width="0.85"/>
<text x="173.1" y="319.58" font-size="4.9" text-anchor="end">45</text>
<line x1="173.5" y1="306.16" x2="176.3" y2="306.16" stroke="#000" stroke-width="0.85"/>
<text x="173.1" y="307.91" font-size="4.9" text-anchor="end">50</text>
<line x1="173.5" y1="294.49" x2="176.3" y2="294.49" stroke="#000" stroke-width="0.85"/>
<text x="173.1" y="296.24" font-size="4.9" text-anchor="end">55</text>
<line x1="173.5" y1="282.82" x2="176.3" y2="282.82" stroke="#000" stroke-width="0.85"/>
<text x="173.1" y="284.57" font-size="4.9" text-anchor="end">60</text>
<line x1="173.5" y1="271.15" x2="176.3" y2="271.15" stroke="#000" stroke-width="0.85"/>
<text x="173.1" y="272.9" font-size="4.9" text-anchor="end">65</text>
<line x1="173.5" y1="259.48" x2="176.3" y2="259.48" stroke="#000" stroke-width="0.85"/>
<text x="173.1" y="261.23" font-size="4.9" text-anchor="end">70</text>
<line x1="176.3" y1="259.08" x2="176.3" y2="330" stroke="#000" stroke-width="1"/>
<line x1="175.8" y1="329.5" x2="281" y2="329.5" stroke="#000" stroke-width="1"/>
<line x1="176.75" y1="329.5" x2="176.75" y2="332.1" stroke="#000" stroke-width="0.85"/>
<text x="176.75" y="337.75" font-size="4.9" text-anchor="middle">20</text>
<line x1="197.5" y1="329.5" x2="197.5" y2="332.1" stroke="#000" stroke-width="0.85"/>
<text x="197.5" y="337.75" font-size="4.9" text-anchor="middle">25</text>
<line x1="218.25" y1="329.5" x2="218.25" y2="332.1" stroke="#000" stroke-width="0.85"/>
<text x="218.25" y="337.75" font-size="4.9" text-anchor="middle">30</text>
<line x1="239" y1="329.5" x2="239" y2="332.1" stroke="#000" stroke-width="0.85"/>
<text x="239" y="337.75" font-size="4.9" text-anchor="middle">35</text>
<line x1="259.75" y1="329.5" x2="259.75" y2="332.1" stroke="#000" stroke-width="0.85"/>
<text x="259.75" y="337.75" font-size="4.9" text-anchor="middle">40</text>
<line x1="280.5" y1="329.5" x2="280.5" y2="332.1" stroke="#000" stroke-width="0.85"/>
<text x="280.5" y="337.75" font-size="4.9" text-anchor="middle">45</text>
<text x="228.7" y="346.59" font-size="5.55" text-anchor="middle">Body mass (grams)</text>
<text x="0" y="0" font-size="5.2" text-anchor="middle" transform="translate(164.4 294.5) rotate(-90)">VO<tspan font-size="3.6" dy="1.2">2</tspan><tspan dy="-1.2"> (mL/hr)</tspan></text>
<line x1="187.5" y1="303.25" x2="213.75" y2="271.25" stroke="#0230fa" stroke-width="1.1"/>
<line x1="206.75" y1="295" x2="225.5" y2="272" stroke="#000" stroke-width="1.1"/>
<line x1="220.75" y1="315" x2="252.5" y2="289.25" stroke="#000" stroke-width="1.1"/>
<rect x="186.25" y="288" width="2.5" height="2.5" fill="#0230fa"/>
<rect x="212.5" y="270" width="2.5" height="2.5" fill="#0230fa"/>
<rect x="216.25" y="279.5" width="2.5" height="2.5" fill="#0230fa"/>
<rect x="211.25" y="286.25" width="2.5" height="2.5" fill="#0230fa"/>
<rect x="201.75" y="293.75" width="2.5" height="2.5" fill="#0230fa"/>
<rect x="204.25" y="293.25" width="2.5" height="2.5" fill="#0230fa"/>
<rect x="209.5" y="292.75" width="2.5" height="2.5" fill="#0230fa"/>
<circle cx="225.5" cy="268.25" r="1.4" fill="#000"/>
<circle cx="218.75" cy="284.25" r="1.4" fill="#000"/>
<circle cx="206.75" cy="297.25" r="1.4" fill="#000"/>
<rect x="225.45" y="295.7" width="2.6" height="2.6" fill="#000"/>
<rect x="251.2" y="301.2" width="2.6" height="2.6" fill="#000"/>
<rect x="220.7" y="309.95" width="2.6" height="2.6" fill="#000"/>
<rect x="219.45" y="314.95" width="2.6" height="2.6" fill="#000"/>
<line x1="149" y1="354.2" x2="156.8" y2="354.2" stroke="#000" stroke-width="1"/>
<circle cx="152.9" cy="354.2" r="1.3" fill="#000"/>
<text x="160" y="356.15" font-size="5.45" text-anchor="start" class="r">WT Cont</text>
<line x1="188.8" y1="354.2" x2="196.6" y2="354.2" stroke="#000" stroke-width="1"/>
<rect x="191.5" y="353" width="2.4" height="2.4" fill="#000"/>
<text x="200" y="356.15" font-size="5.45" text-anchor="start" class="r">WT HFD</text>
<line x1="228.6" y1="354.2" x2="236.4" y2="354.2" stroke="#0230fa" stroke-width="1"/>
<circle cx="232.5" cy="354.2" r="1.3" fill="#0230fa"/>
<text x="240" y="356.15" font-size="5.45" text-anchor="start" class="r">KO Cont</text>
<line x1="268.5" y1="354.2" x2="276.3" y2="354.2" stroke="#0230fa" stroke-width="1"/>
<rect x="271.2" y="353" width="2.4" height="2.4" fill="#0230fa"/>
<text x="279.9" y="356.15" font-size="5.45" text-anchor="start" class="r">KO HFD</text>
<text x="302.8" y="259.24" font-size="15.2" text-anchor="start">J</text>
<text x="369.5" y="263.16" font-size="6.87" text-anchor="middle">Locomotor Activity</text>
<line x1="329.75" y1="345.3" x2="333.25" y2="345.3" stroke="#000" stroke-width="0.8"/>
<text x="329.65" y="347.25" font-size="5.45" text-anchor="end">0</text>
<line x1="329.75" y1="327.12" x2="333.25" y2="327.12" stroke="#000" stroke-width="0.8"/>
<text x="329.65" y="329.08" font-size="5.45" text-anchor="end">200</text>
<line x1="329.75" y1="308.95" x2="333.25" y2="308.95" stroke="#000" stroke-width="0.8"/>
<text x="329.65" y="310.9" font-size="5.45" text-anchor="end">400</text>
<line x1="329.75" y1="290.78" x2="333.25" y2="290.78" stroke="#000" stroke-width="0.8"/>
<text x="329.65" y="292.73" font-size="5.45" text-anchor="end">600</text>
<line x1="329.75" y1="272.6" x2="333.25" y2="272.6" stroke="#000" stroke-width="0.8"/>
<text x="329.65" y="274.55" font-size="5.45" text-anchor="end">800</text>
<line x1="333.25" y1="272.15" x2="333.25" y2="345.8" stroke="#000" stroke-width="1"/>
<rect x="338.35" y="313.15" width="8.5" height="32.15" fill="#fff" stroke="#000" stroke-width="1.3"/>
<rect x="352.55" y="306.9" width="8.5" height="38.4" fill="#0230fa" stroke="#000" stroke-width="1.3"/>
<rect x="377.15" y="313.15" width="8.5" height="32.15" fill="#fff" stroke="#000" stroke-width="1.3"/>
<rect x="391.35" y="292.65" width="8.5" height="52.65" fill="#0230fa" stroke="#000" stroke-width="1.3"/>
<line x1="332.75" y1="345.3" x2="405.5" y2="345.3" stroke="#000" stroke-width="1"/>
<line x1="350" y1="345.3" x2="350" y2="347.9" stroke="#000" stroke-width="0.9"/>
<text x="350" y="353.5" font-size="5.6" text-anchor="middle">Control</text>
<line x1="388.8" y1="345.3" x2="388.8" y2="347.9" stroke="#000" stroke-width="0.9"/>
<text x="388.8" y="353.5" font-size="5.6" text-anchor="middle">HFD</text>
<line x1="342.8" y1="312.5" x2="342.8" y2="316.7" stroke="#b4b4b4" stroke-width="0.7"/>
<line x1="340.5" y1="316.7" x2="345.1" y2="316.7" stroke="#b4b4b4" stroke-width="0.7"/>
<line x1="342.8" y1="308.3" x2="342.8" y2="312.5" stroke="#444" stroke-width="0.75"/>
<line x1="340.4" y1="308.3" x2="345.2" y2="308.3" stroke="#444" stroke-width="0.75"/>
<line x1="357" y1="306.25" x2="357" y2="311.2" stroke="#0a2fc0" stroke-width="0.7"/>
<line x1="354.7" y1="311.2" x2="359.3" y2="311.2" stroke="#0a2fc0" stroke-width="0.7"/>
<line x1="357" y1="301.3" x2="357" y2="306.25" stroke="#444" stroke-width="0.75"/>
<line x1="354.6" y1="301.3" x2="359.4" y2="301.3" stroke="#444" stroke-width="0.75"/>
<line x1="381.6" y1="312.5" x2="381.6" y2="317" stroke="#b4b4b4" stroke-width="0.7"/>
<line x1="379.3" y1="317" x2="383.9" y2="317" stroke="#b4b4b4" stroke-width="0.7"/>
<line x1="381.6" y1="308" x2="381.6" y2="312.5" stroke="#444" stroke-width="0.75"/>
<line x1="379.2" y1="308" x2="384" y2="308" stroke="#444" stroke-width="0.75"/>
<line x1="395.8" y1="292" x2="395.8" y2="299.5" stroke="#0a2fc0" stroke-width="0.7"/>
<line x1="393.5" y1="299.5" x2="398.1" y2="299.5" stroke="#0a2fc0" stroke-width="0.7"/>
<line x1="395.8" y1="284.5" x2="395.8" y2="292" stroke="#444" stroke-width="0.75"/>
<line x1="393.4" y1="284.5" x2="398.2" y2="284.5" stroke="#444" stroke-width="0.75"/>
<circle cx="342.8" cy="304.6" r="1.55" fill="#000"/>
<circle cx="339.2" cy="315.8" r="1.55" fill="#000"/>
<circle cx="346.4" cy="315.8" r="1.55" fill="#000"/>
<circle cx="357.4" cy="292.6" r="1.55" fill="#000"/>
<circle cx="354.6" cy="311.2" r="1.55" fill="#000"/>
<circle cx="360.9" cy="311.2" r="1.55" fill="#000"/>
<circle cx="357.4" cy="307.4" r="1.55" fill="#000"/>
<circle cx="381.5" cy="301.5" r="1.55" fill="#000"/>
<circle cx="378" cy="316.2" r="1.55" fill="#000"/>
<circle cx="385.2" cy="314.6" r="1.55" fill="#000"/>
<circle cx="381.5" cy="314.6" r="1.55" fill="#000"/>
<circle cx="396.2" cy="280.5" r="1.55" fill="#000"/>
<circle cx="396.2" cy="289.7" r="1.55" fill="#000"/>
<circle cx="396.2" cy="306.2" r="1.55" fill="#000"/>
<text x="314.5" y="311.27" font-size="5.77" text-anchor="middle" transform="rotate(-90 314.5 309.2)">Beam breaks/hr</text>
<text x="414.3" y="259.24" font-size="15.2" text-anchor="start">K</text>
<text x="482.5" y="260.79" font-size="6.95" text-anchor="middle">Food intake</text>
<line x1="441" y1="345" x2="444.5" y2="345" stroke="#000" stroke-width="0.8"/>
<text x="440.9" y="346.95" font-size="5.45" text-anchor="end">0</text>
<line x1="441" y1="326.45" x2="444.5" y2="326.45" stroke="#000" stroke-width="0.8"/>
<text x="440.9" y="328.4" font-size="5.45" text-anchor="end">5</text>
<line x1="441" y1="307.9" x2="444.5" y2="307.9" stroke="#000" stroke-width="0.8"/>
<text x="440.9" y="309.85" font-size="5.45" text-anchor="end">10</text>
<line x1="441" y1="289.35" x2="444.5" y2="289.35" stroke="#000" stroke-width="0.8"/>
<text x="440.9" y="291.3" font-size="5.45" text-anchor="end">15</text>
<line x1="441" y1="270.8" x2="444.5" y2="270.8" stroke="#000" stroke-width="0.8"/>
<text x="440.9" y="272.75" font-size="5.45" text-anchor="end">20</text>
<line x1="444.5" y1="270.35" x2="444.5" y2="345.5" stroke="#000" stroke-width="1"/>
<rect x="450.35" y="297.4" width="8.7" height="47.6" fill="#fff" stroke="#000" stroke-width="1.3"/>
<rect x="465.65" y="298.15" width="8.7" height="46.85" fill="#0230fa" stroke="#000" stroke-width="1.3"/>
<rect x="490.95" y="315.15" width="8.7" height="29.85" fill="#fff" stroke="#000" stroke-width="1.3"/>
<rect x="505.95" y="305.15" width="8.7" height="39.85" fill="#0230fa" stroke="#000" stroke-width="1.3"/>
<line x1="444" y1="345" x2="520" y2="345" stroke="#000" stroke-width="1"/>
<line x1="462.6" y1="345" x2="462.6" y2="347.6" stroke="#000" stroke-width="0.9"/>
<text x="462.6" y="353.91" font-size="5.9" text-anchor="middle">Control</text>
<line x1="502.3" y1="345" x2="502.3" y2="347.6" stroke="#000" stroke-width="0.9"/>
<text x="502.3" y="353.91" font-size="5.9" text-anchor="middle">HFD</text>
<line x1="454.9" y1="296.75" x2="454.9" y2="302.5" stroke="#b4b4b4" stroke-width="0.7"/>
<line x1="452.6" y1="302.5" x2="457.2" y2="302.5" stroke="#b4b4b4" stroke-width="0.7"/>
<line x1="454.9" y1="291" x2="454.9" y2="296.75" stroke="#444" stroke-width="0.75"/>
<line x1="452.5" y1="291" x2="457.3" y2="291" stroke="#444" stroke-width="0.75"/>
<line x1="470.3" y1="297.5" x2="470.3" y2="300.5" stroke="#0a2fc0" stroke-width="0.7"/>
<line x1="468" y1="300.5" x2="472.6" y2="300.5" stroke="#0a2fc0" stroke-width="0.7"/>
<line x1="470.3" y1="294.5" x2="470.3" y2="297.5" stroke="#444" stroke-width="0.75"/>
<line x1="467.9" y1="294.5" x2="472.7" y2="294.5" stroke="#444" stroke-width="0.75"/>
<line x1="495.6" y1="314.5" x2="495.6" y2="316.7" stroke="#b4b4b4" stroke-width="0.7"/>
<line x1="493.3" y1="316.7" x2="497.9" y2="316.7" stroke="#b4b4b4" stroke-width="0.7"/>
<line x1="495.6" y1="312.3" x2="495.6" y2="314.5" stroke="#444" stroke-width="0.75"/>
<line x1="493.2" y1="312.3" x2="498" y2="312.3" stroke="#444" stroke-width="0.75"/>
<line x1="510.6" y1="304.5" x2="510.6" y2="307.5" stroke="#0a2fc0" stroke-width="0.7"/>
<line x1="508.3" y1="307.5" x2="512.9" y2="307.5" stroke="#0a2fc0" stroke-width="0.7"/>
<line x1="510.6" y1="301.5" x2="510.6" y2="304.5" stroke="#444" stroke-width="0.75"/>
<line x1="508.2" y1="301.5" x2="513" y2="301.5" stroke="#444" stroke-width="0.75"/>
<circle cx="454.9" cy="288.8" r="1.55" fill="#000"/>
<circle cx="454.9" cy="291.5" r="1.55" fill="#000"/>
<circle cx="455" cy="308.7" r="1.55" fill="#000"/>
<circle cx="470.2" cy="288.7" r="1.55" fill="#000"/>
<circle cx="466.7" cy="300.3" r="1.55" fill="#000"/>
<circle cx="473.4" cy="300.3" r="1.55" fill="#000"/>
<circle cx="495.5" cy="307.7" r="1.55" fill="#000"/>
<circle cx="491.8" cy="318.3" r="1.55" fill="#000"/>
<circle cx="498.9" cy="316.9" r="1.55" fill="#000"/>
<circle cx="495.4" cy="313.6" r="1.55" fill="#000"/>
<circle cx="510.6" cy="300.6" r="1.55" fill="#000"/>
<circle cx="507.6" cy="305" r="1.55" fill="#000"/>
<circle cx="510.6" cy="308.9" r="1.55" fill="#000"/>
<circle cx="513.5" cy="305.5" r="1.55" fill="#000"/>
<text x="495.6" y="301.98" font-size="10.6" text-anchor="middle" style="stroke-width:.4px" stroke-linejoin="round">*</text>
<text x="428.3" y="310.25" font-size="6.28" text-anchor="middle" transform="rotate(-90 428.3 308)">KCal</text>
<text x="32.5" y="379.84" font-size="15.2" text-anchor="start">L</text>
<text x="88.3" y="384.06" font-size="6.33" text-anchor="middle">Liver triglycerides</text>
<line x1="62" y1="460.75" x2="65.5" y2="460.75" stroke="#000" stroke-width="0.8"/>
<text x="61.9" y="462.7" font-size="5.45" text-anchor="end">0</text>
<line x1="62" y1="438" x2="65.5" y2="438" stroke="#000" stroke-width="0.8"/>
<text x="61.9" y="439.95" font-size="5.45" text-anchor="end">1</text>
<line x1="62" y1="415.25" x2="65.5" y2="415.25" stroke="#000" stroke-width="0.8"/>
<text x="61.9" y="417.2" font-size="5.45" text-anchor="end">2</text>
<line x1="62" y1="392.5" x2="65.5" y2="392.5" stroke="#000" stroke-width="0.8"/>
<text x="61.9" y="394.45" font-size="5.45" text-anchor="end">3</text>
<line x1="65.5" y1="392.05" x2="65.5" y2="461.25" stroke="#000" stroke-width="1"/>
<rect x="72.65" y="439.4" width="11.5" height="21.35" fill="#fff" stroke="#000" stroke-width="1.3"/>
<rect x="92.55" y="433.65" width="11.5" height="27.1" fill="#0230fa" stroke="#000" stroke-width="1.3"/>
<line x1="65" y1="460.75" x2="110.8" y2="460.75" stroke="#000" stroke-width="1"/>
<line x1="78.7" y1="438.75" x2="78.7" y2="443" stroke="#b4b4b4" stroke-width="0.7"/>
<line x1="76.4" y1="443" x2="81" y2="443" stroke="#b4b4b4" stroke-width="0.7"/>
<line x1="78.7" y1="434.5" x2="78.7" y2="438.75" stroke="#444" stroke-width="0.75"/>
<line x1="76.3" y1="434.5" x2="81.1" y2="434.5" stroke="#444" stroke-width="0.75"/>
<line x1="98.5" y1="433" x2="98.5" y2="440.5" stroke="#0a2fc0" stroke-width="0.7"/>
<line x1="96.2" y1="440.5" x2="100.8" y2="440.5" stroke="#0a2fc0" stroke-width="0.7"/>
<line x1="98.5" y1="425.5" x2="98.5" y2="433" stroke="#444" stroke-width="0.75"/>
<line x1="96.1" y1="425.5" x2="100.9" y2="425.5" stroke="#444" stroke-width="0.75"/>
<circle cx="78.7" cy="424.3" r="1.2" fill="#000"/>
<circle cx="78.7" cy="435" r="1.2" fill="#000"/>
<circle cx="74.3" cy="444.5" r="1.2" fill="#000"/>
<circle cx="77.5" cy="443" r="1.2" fill="#000"/>
<circle cx="81.3" cy="443.8" r="1.2" fill="#000"/>
<circle cx="83.3" cy="442" r="1.2" fill="#000"/>
<circle cx="80" cy="440" r="1.2" fill="#000"/>
<circle cx="98.3" cy="402" r="1.2" fill="#000"/>
<circle cx="98.3" cy="425.5" r="1.2" fill="#000"/>
<circle cx="95" cy="443" r="1.2" fill="#000"/>
<circle cx="97" cy="440" r="1.2" fill="#000"/>
<circle cx="100.5" cy="445" r="1.2" fill="#000"/>
<circle cx="98.3" cy="449.5" r="1.2" fill="#000"/>
<circle cx="98.3" cy="432.5" r="1.2" fill="#000"/>
<text x="78.7" y="469" font-size="5.6" text-anchor="middle">WT</text>
<text x="98.7" y="469" font-size="5.6" text-anchor="middle">Ad-KO</text>
<text x="90.5" y="477.2" font-size="5.6" text-anchor="middle">HFD</text>
<text x="53.8" y="429.54" font-size="5.43" text-anchor="middle" transform="rotate(-90 53.8 427.6)">mmol/L</text>
<text x="165.5" y="380.04" font-size="15.2" text-anchor="start">M</text>
<text x="242.5" y="375.07" font-size="6.9" text-anchor="middle">GTT</text>
<line x1="201.7" y1="457.75" x2="204.3" y2="457.75" stroke="#000" stroke-width="0.8"/>
<text x="201.3" y="459.5" font-size="4.9" text-anchor="end">0</text>
<line x1="201.7" y1="452.12" x2="204.3" y2="452.12" stroke="#000" stroke-width="0.8"/>
<text x="201.3" y="453.88" font-size="4.9" text-anchor="end">50</text>
<line x1="201.7" y1="446.5" x2="204.3" y2="446.5" stroke="#000" stroke-width="0.8"/>
<text x="201.3" y="448.25" font-size="4.9" text-anchor="end">100</text>
<line x1="201.7" y1="440.88" x2="204.3" y2="440.88" stroke="#000" stroke-width="0.8"/>
<text x="201.3" y="442.63" font-size="4.9" text-anchor="end">150</text>
<line x1="201.7" y1="435.25" x2="204.3" y2="435.25" stroke="#000" stroke-width="0.8"/>
<text x="201.3" y="437" font-size="4.9" text-anchor="end">200</text>
<line x1="201.7" y1="429.62" x2="204.3" y2="429.62" stroke="#000" stroke-width="0.8"/>
<text x="201.3" y="431.38" font-size="4.9" text-anchor="end">250</text>
<line x1="201.7" y1="424" x2="204.3" y2="424" stroke="#000" stroke-width="0.8"/>
<text x="201.3" y="425.75" font-size="4.9" text-anchor="end">300</text>
<line x1="201.7" y1="418.38" x2="204.3" y2="418.38" stroke="#000" stroke-width="0.8"/>
<text x="201.3" y="420.13" font-size="4.9" text-anchor="end">350</text>
<line x1="201.7" y1="412.75" x2="204.3" y2="412.75" stroke="#000" stroke-width="0.8"/>
<text x="201.3" y="414.5" font-size="4.9" text-anchor="end">400</text>
<line x1="201.7" y1="407.12" x2="204.3" y2="407.12" stroke="#000" stroke-width="0.8"/>
<text x="201.3" y="408.88" font-size="4.9" text-anchor="end">450</text>
<line x1="201.7" y1="401.5" x2="204.3" y2="401.5" stroke="#000" stroke-width="0.8"/>
<text x="201.3" y="403.25" font-size="4.9" text-anchor="end">500</text>
<line x1="201.7" y1="395.88" x2="204.3" y2="395.88" stroke="#000" stroke-width="0.8"/>
<text x="201.3" y="397.63" font-size="4.9" text-anchor="end">550</text>
<line x1="201.7" y1="390.25" x2="204.3" y2="390.25" stroke="#000" stroke-width="0.8"/>
<text x="201.3" y="392" font-size="4.9" text-anchor="end">600</text>
<line x1="204.3" y1="389.85" x2="204.3" y2="458.25" stroke="#000" stroke-width="1"/>
<line x1="203.8" y1="457.75" x2="306.8" y2="457.75" stroke="#000" stroke-width="1"/>
<line x1="208.55" y1="457.75" x2="208.55" y2="460.25" stroke="#000" stroke-width="0.8"/>
<text x="209.15" y="464.55" font-size="5.3" text-anchor="end" transform="rotate(-48 209.15 462.65)">5</text>
<line x1="217.05" y1="457.75" x2="217.05" y2="460.25" stroke="#000" stroke-width="0.8"/>
<text x="217.65" y="464.55" font-size="5.3" text-anchor="end" transform="rotate(-48 217.65 462.65)">15</text>
<line x1="229.8" y1="457.75" x2="229.8" y2="460.25" stroke="#000" stroke-width="0.8"/>
<text x="230.4" y="464.55" font-size="5.3" text-anchor="end" transform="rotate(-48 230.4 462.65)">30</text>
<line x1="255.3" y1="457.75" x2="255.3" y2="460.25" stroke="#000" stroke-width="0.8"/>
<text x="255.9" y="464.55" font-size="5.3" text-anchor="end" transform="rotate(-48 255.9 462.65)">60</text>
<line x1="306.3" y1="457.75" x2="306.3" y2="460.25" stroke="#000" stroke-width="0.8"/>
<text x="306.9" y="464.55" font-size="5.3" text-anchor="end" transform="rotate(-48 306.9 462.65)">120</text>
<text x="255.6" y="477.99" font-size="5.57" text-anchor="middle">Time (minutes)</text>
<line x1="204.3" y1="438.62" x2="204.3" y2="441.33" stroke="#0230fa" stroke-width="1"/>
<line x1="202.4" y1="438.62" x2="206.2" y2="438.62" stroke="#0230fa" stroke-width="1"/>
<line x1="202.4" y1="441.33" x2="206.2" y2="441.33" stroke="#0230fa" stroke-width="1"/>
<line x1="208.55" y1="424.23" x2="208.55" y2="433.23" stroke="#0230fa" stroke-width="1"/>
<line x1="206.65" y1="424.23" x2="210.45" y2="424.23" stroke="#0230fa" stroke-width="1"/>
<line x1="206.65" y1="433.23" x2="210.45" y2="433.23" stroke="#0230fa" stroke-width="1"/>
<line x1="217.05" y1="416.35" x2="217.05" y2="428.73" stroke="#0230fa" stroke-width="1"/>
<line x1="215.15" y1="416.35" x2="218.95" y2="416.35" stroke="#0230fa" stroke-width="1"/>
<line x1="215.15" y1="428.73" x2="218.95" y2="428.73" stroke="#0230fa" stroke-width="1"/>
<line x1="229.8" y1="416.91" x2="229.8" y2="431.54" stroke="#0230fa" stroke-width="1"/>
<line x1="227.9" y1="416.91" x2="231.7" y2="416.91" stroke="#0230fa" stroke-width="1"/>
<line x1="227.9" y1="431.54" x2="231.7" y2="431.54" stroke="#0230fa" stroke-width="1"/>
<line x1="255.3" y1="426.93" x2="255.3" y2="437.05" stroke="#0230fa" stroke-width="1"/>
<line x1="253.4" y1="426.93" x2="257.2" y2="426.93" stroke="#0230fa" stroke-width="1"/>
<line x1="253.4" y1="437.05" x2="257.2" y2="437.05" stroke="#0230fa" stroke-width="1"/>
<line x1="306.3" y1="436.26" x2="306.3" y2="441.21" stroke="#0230fa" stroke-width="1"/>
<line x1="304.4" y1="436.26" x2="308.2" y2="436.26" stroke="#0230fa" stroke-width="1"/>
<line x1="304.4" y1="441.21" x2="308.2" y2="441.21" stroke="#0230fa" stroke-width="1"/>
<polyline points="204.3,439.98 208.55,428.73 217.05,422.54 229.8,424.23 255.3,431.99 306.3,438.74" fill="none" stroke="#0230fa" stroke-width="1.45"/>
<circle cx="204.3" cy="439.98" r="1.35" fill="#0230fa"/>
<circle cx="208.55" cy="428.73" r="1.35" fill="#0230fa"/>
<circle cx="217.05" cy="422.54" r="1.35" fill="#0230fa"/>
<circle cx="229.8" cy="424.23" r="1.35" fill="#0230fa"/>
<circle cx="255.3" cy="431.99" r="1.35" fill="#0230fa"/>
<circle cx="306.3" cy="438.74" r="1.35" fill="#0230fa"/>
<line x1="204.3" y1="439.86" x2="204.3" y2="442.56" stroke="#000" stroke-width="1"/>
<line x1="202.4" y1="439.86" x2="206.2" y2="439.86" stroke="#000" stroke-width="1"/>
<line x1="202.4" y1="442.56" x2="206.2" y2="442.56" stroke="#000" stroke-width="1"/>
<line x1="208.55" y1="431.31" x2="208.55" y2="435.81" stroke="#000" stroke-width="1"/>
<line x1="206.65" y1="431.31" x2="210.45" y2="431.31" stroke="#000" stroke-width="1"/>
<line x1="206.65" y1="435.81" x2="210.45" y2="435.81" stroke="#000" stroke-width="1"/>
<line x1="217.05" y1="422.65" x2="217.05" y2="428.27" stroke="#000" stroke-width="1"/>
<line x1="215.15" y1="422.65" x2="218.95" y2="422.65" stroke="#000" stroke-width="1"/>
<line x1="215.15" y1="428.27" x2="218.95" y2="428.27" stroke="#000" stroke-width="1"/>
<line x1="229.8" y1="426.25" x2="229.8" y2="431.2" stroke="#000" stroke-width="1"/>
<line x1="227.9" y1="426.25" x2="231.7" y2="426.25" stroke="#000" stroke-width="1"/>
<line x1="227.9" y1="431.2" x2="231.7" y2="431.2" stroke="#000" stroke-width="1"/>
<line x1="255.3" y1="427.49" x2="255.3" y2="436.49" stroke="#000" stroke-width="1"/>
<line x1="253.4" y1="427.49" x2="257.2" y2="427.49" stroke="#000" stroke-width="1"/>
<line x1="253.4" y1="436.49" x2="257.2" y2="436.49" stroke="#000" stroke-width="1"/>
<line x1="306.3" y1="438.06" x2="306.3" y2="443.01" stroke="#000" stroke-width="1"/>
<line x1="304.4" y1="438.06" x2="308.2" y2="438.06" stroke="#000" stroke-width="1"/>
<line x1="304.4" y1="443.01" x2="308.2" y2="443.01" stroke="#000" stroke-width="1"/>
<polyline points="204.3,441.21 208.55,433.56 217.05,425.46 229.8,428.73 255.3,431.99 306.3,440.54" fill="none" stroke="#000" stroke-width="1.45"/>
<circle cx="204.3" cy="441.21" r="1.35" fill="#000"/>
<circle cx="208.55" cy="433.56" r="1.35" fill="#000"/>
<circle cx="217.05" cy="425.46" r="1.35" fill="#000"/>
<circle cx="229.8" cy="428.73" r="1.35" fill="#000"/>
<circle cx="255.3" cy="431.99" r="1.35" fill="#000"/>
<circle cx="306.3" cy="440.54" r="1.35" fill="#000"/>
<line x1="204.3" y1="431.54" x2="204.3" y2="436.04" stroke="#0230fa" stroke-width="1"/>
<line x1="202.4" y1="431.54" x2="206.2" y2="431.54" stroke="#0230fa" stroke-width="1"/>
<line x1="202.4" y1="436.04" x2="206.2" y2="436.04" stroke="#0230fa" stroke-width="1"/>
<line x1="208.55" y1="418.71" x2="208.55" y2="428.84" stroke="#0230fa" stroke-width="1"/>
<line x1="206.65" y1="418.71" x2="210.45" y2="418.71" stroke="#0230fa" stroke-width="1"/>
<line x1="206.65" y1="428.84" x2="210.45" y2="428.84" stroke="#0230fa" stroke-width="1"/>
<line x1="217.05" y1="404.43" x2="217.05" y2="415.68" stroke="#0230fa" stroke-width="1"/>
<line x1="215.15" y1="404.43" x2="218.95" y2="404.43" stroke="#0230fa" stroke-width="1"/>
<line x1="215.15" y1="415.68" x2="218.95" y2="415.68" stroke="#0230fa" stroke-width="1"/>
<line x1="229.8" y1="404.09" x2="229.8" y2="410.84" stroke="#0230fa" stroke-width="1"/>
<line x1="227.9" y1="404.09" x2="231.7" y2="404.09" stroke="#0230fa" stroke-width="1"/>
<line x1="227.9" y1="410.84" x2="231.7" y2="410.84" stroke="#0230fa" stroke-width="1"/>
<line x1="255.3" y1="412.41" x2="255.3" y2="422.54" stroke="#0230fa" stroke-width="1"/>
<line x1="253.4" y1="412.41" x2="257.2" y2="412.41" stroke="#0230fa" stroke-width="1"/>
<line x1="253.4" y1="422.54" x2="257.2" y2="422.54" stroke="#0230fa" stroke-width="1"/>
<line x1="306.3" y1="423.66" x2="306.3" y2="433.79" stroke="#0230fa" stroke-width="1"/>
<line x1="304.4" y1="423.66" x2="308.2" y2="423.66" stroke="#0230fa" stroke-width="1"/>
<line x1="304.4" y1="433.79" x2="308.2" y2="433.79" stroke="#0230fa" stroke-width="1"/>
<polyline points="204.3,433.79 208.55,423.77 217.05,410.05 229.8,407.46 255.3,417.48 306.3,428.73" fill="none" stroke="#0230fa" stroke-width="1.45" stroke-dasharray="3.2 1.6"/>
<circle cx="204.3" cy="433.79" r="1.35" fill="#0230fa"/>
<circle cx="208.55" cy="423.77" r="1.35" fill="#0230fa"/>
<circle cx="217.05" cy="410.05" r="1.35" fill="#0230fa"/>
<circle cx="229.8" cy="407.46" r="1.35" fill="#0230fa"/>
<circle cx="255.3" cy="417.48" r="1.35" fill="#0230fa"/>
<circle cx="306.3" cy="428.73" r="1.35" fill="#0230fa"/>
<line x1="204.3" y1="434.57" x2="204.3" y2="437.95" stroke="#000" stroke-width="1"/>
<line x1="202.4" y1="434.57" x2="206.2" y2="434.57" stroke="#000" stroke-width="1"/>
<line x1="202.4" y1="437.95" x2="206.2" y2="437.95" stroke="#000" stroke-width="1"/>
<line x1="208.55" y1="421.75" x2="208.55" y2="427.38" stroke="#000" stroke-width="1"/>
<line x1="206.65" y1="421.75" x2="210.45" y2="421.75" stroke="#000" stroke-width="1"/>
<line x1="206.65" y1="427.38" x2="210.45" y2="427.38" stroke="#000" stroke-width="1"/>
<line x1="217.05" y1="407.91" x2="217.05" y2="414.66" stroke="#000" stroke-width="1"/>
<line x1="215.15" y1="407.91" x2="218.95" y2="407.91" stroke="#000" stroke-width="1"/>
<line x1="215.15" y1="414.66" x2="218.95" y2="414.66" stroke="#000" stroke-width="1"/>
<line x1="229.8" y1="402.74" x2="229.8" y2="408.36" stroke="#000" stroke-width="1"/>
<line x1="227.9" y1="402.74" x2="231.7" y2="402.74" stroke="#000" stroke-width="1"/>
<line x1="227.9" y1="408.36" x2="231.7" y2="408.36" stroke="#000" stroke-width="1"/>
<line x1="255.3" y1="407.24" x2="255.3" y2="416.24" stroke="#000" stroke-width="1"/>
<line x1="253.4" y1="407.24" x2="257.2" y2="407.24" stroke="#000" stroke-width="1"/>
<line x1="253.4" y1="416.24" x2="257.2" y2="416.24" stroke="#000" stroke-width="1"/>
<line x1="306.3" y1="418.04" x2="306.3" y2="427.04" stroke="#000" stroke-width="1"/>
<line x1="304.4" y1="418.04" x2="308.2" y2="418.04" stroke="#000" stroke-width="1"/>
<line x1="304.4" y1="427.04" x2="308.2" y2="427.04" stroke="#000" stroke-width="1"/>
<polyline points="204.3,436.26 208.55,424.56 217.05,411.29 229.8,405.55 255.3,411.74 306.3,422.54" fill="none" stroke="#000" stroke-width="1.45" stroke-dasharray="3.2 1.6"/>
<rect x="203.1" y="435.06" width="2.4" height="2.4" fill="#fff" stroke="#000" stroke-width="1.15"/>
<rect x="207.35" y="423.36" width="2.4" height="2.4" fill="#fff" stroke="#000" stroke-width="1.15"/>
<rect x="215.85" y="410.09" width="2.4" height="2.4" fill="#fff" stroke="#000" stroke-width="1.15"/>
<rect x="228.6" y="404.35" width="2.4" height="2.4" fill="#fff" stroke="#000" stroke-width="1.15"/>
<rect x="254.1" y="410.54" width="2.4" height="2.4" fill="#fff" stroke="#000" stroke-width="1.15"/>
<rect x="305.1" y="421.34" width="2.4" height="2.4" fill="#fff" stroke="#000" stroke-width="1.15"/>
<line x1="185.3" y1="488" x2="193.6" y2="488" stroke="#000" stroke-width="1.05"/>
<circle cx="189.45" cy="488" r="1.2" fill="#000"/>
<text x="196.2" y="489.95" font-size="5.45" text-anchor="start" class="r">WT Cont</text>
<line x1="225.8" y1="488" x2="234.1" y2="488" stroke="#000" stroke-width="1.05"/>
<rect x="228.5" y="486.55" width="2.9" height="2.9" fill="#fff" stroke="#000" stroke-width="1.1"/>
<text x="237.7" y="489.95" font-size="5.45" text-anchor="start" class="r">WT HFD</text>
<line x1="264.3" y1="488" x2="272.6" y2="488" stroke="#0230fa" stroke-width="1.05"/>
<circle cx="268.45" cy="488" r="1.2" fill="#0230fa"/>
<text x="276.5" y="489.95" font-size="5.45" text-anchor="start" class="r">Ad-KO Cont</text>
<line x1="310.5" y1="488" x2="318.8" y2="488" stroke="#0230fa" stroke-width="1.05"/>
<polygon points="314.65,486.1 316.45,489.3 312.85,489.3" fill="#0230fa"/>
<text x="322.7" y="489.95" font-size="5.45" text-anchor="start" class="r">Ad-KO HFD</text>
<text x="331.5" y="380.04" font-size="15.2" text-anchor="start">N</text>
<text x="414.5" y="374.27" font-size="6.9" text-anchor="middle">GTT</text>
<line x1="374" y1="458.25" x2="377.5" y2="458.25" stroke="#000" stroke-width="0.8"/>
<text x="373.9" y="460.25" font-size="5.6" text-anchor="end">0</text>
<line x1="374" y1="439.62" x2="377.5" y2="439.62" stroke="#000" stroke-width="0.8"/>
<text x="373.9" y="441.63" font-size="5.6" text-anchor="end">20,000</text>
<line x1="374" y1="421" x2="377.5" y2="421" stroke="#000" stroke-width="0.8"/>
<text x="373.9" y="423" font-size="5.6" text-anchor="end">40,000</text>
<line x1="374" y1="402.38" x2="377.5" y2="402.38" stroke="#000" stroke-width="0.8"/>
<text x="373.9" y="404.38" font-size="5.6" text-anchor="end">60,000</text>
<line x1="374" y1="383.75" x2="377.5" y2="383.75" stroke="#000" stroke-width="0.8"/>
<text x="373.9" y="385.75" font-size="5.6" text-anchor="end">80,000</text>
<line x1="377.5" y1="383.3" x2="377.5" y2="458.75" stroke="#000" stroke-width="1"/>
<rect x="382.65" y="434.9" width="8.7" height="23.35" fill="#fff" stroke="#000" stroke-width="1.3"/>
<rect x="397.55" y="433.15" width="8.7" height="25.1" fill="#0230fa" stroke="#000" stroke-width="1.3"/>
<rect x="422.15" y="414.9" width="8.7" height="43.35" fill="#fff" stroke="#000" stroke-width="1.3"/>
<rect x="437.15" y="420.65" width="8.7" height="37.6" fill="#0230fa" stroke="#000" stroke-width="1.3"/>
<line x1="377" y1="458.25" x2="452" y2="458.25" stroke="#000" stroke-width="1"/>
<line x1="394.5" y1="458.25" x2="394.5" y2="460.85" stroke="#000" stroke-width="0.9"/>
<text x="394.5" y="467.49" font-size="5.85" text-anchor="middle">Control</text>
<line x1="434.5" y1="458.25" x2="434.5" y2="460.85" stroke="#000" stroke-width="0.9"/>
<text x="434.5" y="467.49" font-size="5.85" text-anchor="middle">HFD</text>
<line x1="387.2" y1="434.25" x2="387.2" y2="438" stroke="#b4b4b4" stroke-width="0.7"/>
<line x1="384.9" y1="438" x2="389.5" y2="438" stroke="#b4b4b4" stroke-width="0.7"/>
<line x1="387.2" y1="430.5" x2="387.2" y2="434.25" stroke="#444" stroke-width="0.75"/>
<line x1="384.8" y1="430.5" x2="389.6" y2="430.5" stroke="#444" stroke-width="0.75"/>
<line x1="402.2" y1="432.5" x2="402.2" y2="437" stroke="#0a2fc0" stroke-width="0.7"/>
<line x1="399.9" y1="437" x2="404.5" y2="437" stroke="#0a2fc0" stroke-width="0.7"/>
<line x1="402.2" y1="428" x2="402.2" y2="432.5" stroke="#444" stroke-width="0.75"/>
<line x1="399.8" y1="428" x2="404.6" y2="428" stroke="#444" stroke-width="0.75"/>
<line x1="426.8" y1="414.25" x2="426.8" y2="417.7" stroke="#b4b4b4" stroke-width="0.7"/>
<line x1="424.5" y1="417.7" x2="429.1" y2="417.7" stroke="#b4b4b4" stroke-width="0.7"/>
<line x1="426.8" y1="410.8" x2="426.8" y2="414.25" stroke="#444" stroke-width="0.75"/>
<line x1="424.4" y1="410.8" x2="429.2" y2="410.8" stroke="#444" stroke-width="0.75"/>
<line x1="441.8" y1="420" x2="441.8" y2="424.5" stroke="#0a2fc0" stroke-width="0.7"/>
<line x1="439.5" y1="424.5" x2="444.1" y2="424.5" stroke="#0a2fc0" stroke-width="0.7"/>
<line x1="441.8" y1="415.5" x2="441.8" y2="420" stroke="#444" stroke-width="0.75"/>
<line x1="439.4" y1="415.5" x2="444.2" y2="415.5" stroke="#444" stroke-width="0.75"/>
<circle cx="383.5" cy="426.9" r="1.55" fill="#000"/>
<circle cx="390.4" cy="427.2" r="1.55" fill="#000"/>
<circle cx="383.5" cy="435.7" r="1.55" fill="#000"/>
<circle cx="390.6" cy="435.7" r="1.55" fill="#000"/>
<circle cx="383.5" cy="440.3" r="1.55" fill="#000"/>
<circle cx="390.4" cy="439.5" r="1.55" fill="#000"/>
<circle cx="402.2" cy="423.8" r="1.55" fill="#000"/>
<circle cx="402.2" cy="428" r="1.55" fill="#000"/>
<circle cx="402.2" cy="434.9" r="1.55" fill="#000"/>
<circle cx="402.2" cy="441.4" r="1.55" fill="#000"/>
<circle cx="427" cy="394.2" r="1.55" fill="#000"/>
<circle cx="427" cy="405.7" r="1.55" fill="#000"/>
<circle cx="423.7" cy="414.6" r="1.55" fill="#000"/>
<circle cx="430.6" cy="414.6" r="1.55" fill="#000"/>
<circle cx="427" cy="413.1" r="1.55" fill="#000"/>
<circle cx="427" cy="419.2" r="1.55" fill="#000"/>
<circle cx="425" cy="423.4" r="1.55" fill="#000"/>
<circle cx="428.8" cy="423.4" r="1.55" fill="#000"/>
<circle cx="427" cy="429.1" r="1.55" fill="#000"/>
<circle cx="441.9" cy="408" r="1.55" fill="#000"/>
<circle cx="441.9" cy="419.5" r="1.55" fill="#000"/>
<circle cx="441.9" cy="423.1" r="1.55" fill="#000"/>
<circle cx="441.9" cy="426.5" r="1.55" fill="#000"/>
<text x="427.3" y="386.68" font-size="10.6" text-anchor="middle" style="stroke-width:.4px" stroke-linejoin="round">*</text>
<text x="351.3" y="423.19" font-size="6.13" text-anchor="middle" transform="rotate(-90 351.3 421)">Area Under the Curve</text>
<text x="27.8" y="514.54" font-size="15.2" text-anchor="start">O</text>
<text x="94.5" y="516.38" font-size="7.2" text-anchor="middle">ITT</text>
<line x1="49.7" y1="597.75" x2="52.3" y2="597.75" stroke="#000" stroke-width="0.8"/>
<text x="49.3" y="599.5" font-size="4.9" text-anchor="end">0</text>
<line x1="49.7" y1="590.25" x2="52.3" y2="590.25" stroke="#000" stroke-width="0.8"/>
<text x="49.3" y="592" font-size="4.9" text-anchor="end">25</text>
<line x1="49.7" y1="582.75" x2="52.3" y2="582.75" stroke="#000" stroke-width="0.8"/>
<text x="49.3" y="584.5" font-size="4.9" text-anchor="end">50</text>
<line x1="49.7" y1="575.25" x2="52.3" y2="575.25" stroke="#000" stroke-width="0.8"/>
<text x="49.3" y="577" font-size="4.9" text-anchor="end">75</text>
<line x1="49.7" y1="567.75" x2="52.3" y2="567.75" stroke="#000" stroke-width="0.8"/>
<text x="49.3" y="569.5" font-size="4.9" text-anchor="end">100</text>
<line x1="49.7" y1="560.25" x2="52.3" y2="560.25" stroke="#000" stroke-width="0.8"/>
<text x="49.3" y="562" font-size="4.9" text-anchor="end">125</text>
<line x1="49.7" y1="552.75" x2="52.3" y2="552.75" stroke="#000" stroke-width="0.8"/>
<text x="49.3" y="554.5" font-size="4.9" text-anchor="end">150</text>
<line x1="49.7" y1="545.25" x2="52.3" y2="545.25" stroke="#000" stroke-width="0.8"/>
<text x="49.3" y="547" font-size="4.9" text-anchor="end">175</text>
<line x1="49.7" y1="537.75" x2="52.3" y2="537.75" stroke="#000" stroke-width="0.8"/>
<text x="49.3" y="539.5" font-size="4.9" text-anchor="end">200</text>
<line x1="49.7" y1="530.25" x2="52.3" y2="530.25" stroke="#000" stroke-width="0.8"/>
<text x="49.3" y="532" font-size="4.9" text-anchor="end">225</text>
<line x1="52.3" y1="529.85" x2="52.3" y2="598.25" stroke="#000" stroke-width="1"/>
<line x1="51.8" y1="597.75" x2="155.32" y2="597.75" stroke="#000" stroke-width="1"/>
<line x1="52.3" y1="597.75" x2="52.3" y2="600.25" stroke="#000" stroke-width="0.8"/>
<text x="52.9" y="604.51" font-size="5.2" text-anchor="end" transform="rotate(-48 52.9 602.65)">0</text>
<line x1="62.55" y1="597.75" x2="62.55" y2="600.25" stroke="#000" stroke-width="0.8"/>
<text x="63.15" y="604.51" font-size="5.2" text-anchor="end" transform="rotate(-48 63.15 602.65)">15</text>
<line x1="72.8" y1="597.75" x2="72.8" y2="600.25" stroke="#000" stroke-width="0.8"/>
<text x="73.4" y="604.51" font-size="5.2" text-anchor="end" transform="rotate(-48 73.4 602.65)">30</text>
<line x1="83.06" y1="597.75" x2="83.06" y2="600.25" stroke="#000" stroke-width="0.8"/>
<text x="83.66" y="604.51" font-size="5.2" text-anchor="end" transform="rotate(-48 83.66 602.65)">45</text>
<line x1="93.31" y1="597.75" x2="93.31" y2="600.25" stroke="#000" stroke-width="0.8"/>
<text x="93.91" y="604.51" font-size="5.2" text-anchor="end" transform="rotate(-48 93.91 602.65)">60</text>
<line x1="113.81" y1="597.75" x2="113.81" y2="600.25" stroke="#000" stroke-width="0.8"/>
<text x="114.41" y="604.51" font-size="5.2" text-anchor="end" transform="rotate(-48 114.41 602.65)">90</text>
<line x1="134.32" y1="597.75" x2="134.32" y2="600.25" stroke="#000" stroke-width="0.8"/>
<text x="134.92" y="604.51" font-size="5.2" text-anchor="end" transform="rotate(-48 134.92 602.65)">120</text>
<line x1="154.82" y1="597.75" x2="154.82" y2="600.25" stroke="#000" stroke-width="0.8"/>
<text x="155.42" y="604.51" font-size="5.2" text-anchor="end" transform="rotate(-48 155.42 602.65)">150</text>
<text x="103.8" y="617.49" font-size="5.57" text-anchor="middle">Time (minutes)</text>
<line x1="52.3" y1="552.15" x2="52.3" y2="565.35" stroke="#0230fa" stroke-width="1"/>
<line x1="50.4" y1="552.15" x2="54.2" y2="552.15" stroke="#0230fa" stroke-width="1"/>
<line x1="50.4" y1="565.35" x2="54.2" y2="565.35" stroke="#0230fa" stroke-width="1"/>
<line x1="62.55" y1="566.7" x2="62.55" y2="572.7" stroke="#0230fa" stroke-width="1"/>
<line x1="60.65" y1="566.7" x2="64.45" y2="566.7" stroke="#0230fa" stroke-width="1"/>
<line x1="60.65" y1="572.7" x2="64.45" y2="572.7" stroke="#0230fa" stroke-width="1"/>
<line x1="72.8" y1="571.65" x2="72.8" y2="577.65" stroke="#0230fa" stroke-width="1"/>
<line x1="70.9" y1="571.65" x2="74.7" y2="571.65" stroke="#0230fa" stroke-width="1"/>
<line x1="70.9" y1="577.65" x2="74.7" y2="577.65" stroke="#0230fa" stroke-width="1"/>
<line x1="83.06" y1="572.25" x2="83.06" y2="581.25" stroke="#0230fa" stroke-width="1"/>
<line x1="81.16" y1="572.25" x2="84.96" y2="572.25" stroke="#0230fa" stroke-width="1"/>
<line x1="81.16" y1="581.25" x2="84.96" y2="581.25" stroke="#0230fa" stroke-width="1"/>
<line x1="93.31" y1="574.05" x2="93.31" y2="583.05" stroke="#0230fa" stroke-width="1"/>
<line x1="91.41" y1="574.05" x2="95.21" y2="574.05" stroke="#0230fa" stroke-width="1"/>
<line x1="91.41" y1="583.05" x2="95.21" y2="583.05" stroke="#0230fa" stroke-width="1"/>
<line x1="113.81" y1="570.15" x2="113.81" y2="580.95" stroke="#0230fa" stroke-width="1"/>
<line x1="111.91" y1="570.15" x2="115.72" y2="570.15" stroke="#0230fa" stroke-width="1"/>
<line x1="111.91" y1="580.95" x2="115.72" y2="580.95" stroke="#0230fa" stroke-width="1"/>
<line x1="134.32" y1="567.15" x2="134.32" y2="577.95" stroke="#0230fa" stroke-width="1"/>
<line x1="132.42" y1="567.15" x2="136.22" y2="567.15" stroke="#0230fa" stroke-width="1"/>
<line x1="132.42" y1="577.95" x2="136.22" y2="577.95" stroke="#0230fa" stroke-width="1"/>
<line x1="154.82" y1="559.05" x2="154.82" y2="569.85" stroke="#0230fa" stroke-width="1"/>
<line x1="152.92" y1="559.05" x2="156.72" y2="559.05" stroke="#0230fa" stroke-width="1"/>
<line x1="152.92" y1="569.85" x2="156.72" y2="569.85" stroke="#0230fa" stroke-width="1"/>
<polyline points="52.3,558.75 62.55,569.7 72.8,574.65 83.06,576.75 93.31,578.55 113.81,575.55 134.32,572.55 154.82,564.45" fill="none" stroke="#0230fa" stroke-width="1.3"/>
<circle cx="52.3" cy="558.75" r="1.35" fill="#0230fa"/>
<circle cx="62.55" cy="569.7" r="1.35" fill="#0230fa"/>
<circle cx="72.8" cy="574.65" r="1.35" fill="#0230fa"/>
<circle cx="83.06" cy="576.75" r="1.35" fill="#0230fa"/>
<circle cx="93.31" cy="578.55" r="1.35" fill="#0230fa"/>
<circle cx="113.81" cy="575.55" r="1.35" fill="#0230fa"/>
<circle cx="134.32" cy="572.55" r="1.35" fill="#0230fa"/>
<circle cx="154.82" cy="564.45" r="1.35" fill="#0230fa"/>
<line x1="52.3" y1="555.15" x2="52.3" y2="559.95" stroke="#000" stroke-width="1"/>
<line x1="50.4" y1="555.15" x2="54.2" y2="555.15" stroke="#000" stroke-width="1"/>
<line x1="50.4" y1="559.95" x2="54.2" y2="559.95" stroke="#000" stroke-width="1"/>
<line x1="62.55" y1="570.15" x2="62.55" y2="573.15" stroke="#000" stroke-width="1"/>
<line x1="60.65" y1="570.15" x2="64.45" y2="570.15" stroke="#000" stroke-width="1"/>
<line x1="60.65" y1="573.15" x2="64.45" y2="573.15" stroke="#000" stroke-width="1"/>
<line x1="72.8" y1="576.3" x2="72.8" y2="579.3" stroke="#000" stroke-width="1"/>
<line x1="70.9" y1="576.3" x2="74.7" y2="576.3" stroke="#000" stroke-width="1"/>
<line x1="70.9" y1="579.3" x2="74.7" y2="579.3" stroke="#000" stroke-width="1"/>
<line x1="83.06" y1="578.7" x2="83.06" y2="581.7" stroke="#000" stroke-width="1"/>
<line x1="81.16" y1="578.7" x2="84.96" y2="578.7" stroke="#000" stroke-width="1"/>
<line x1="81.16" y1="581.7" x2="84.96" y2="581.7" stroke="#000" stroke-width="1"/>
<line x1="93.31" y1="577.8" x2="93.31" y2="580.8" stroke="#000" stroke-width="1"/>
<line x1="91.41" y1="577.8" x2="95.21" y2="577.8" stroke="#000" stroke-width="1"/>
<line x1="91.41" y1="580.8" x2="95.21" y2="580.8" stroke="#000" stroke-width="1"/>
<line x1="113.81" y1="570.6" x2="113.81" y2="575.4" stroke="#000" stroke-width="1"/>
<line x1="111.91" y1="570.6" x2="115.72" y2="570.6" stroke="#000" stroke-width="1"/>
<line x1="111.91" y1="575.4" x2="115.72" y2="575.4" stroke="#000" stroke-width="1"/>
<line x1="134.32" y1="566.25" x2="134.32" y2="571.05" stroke="#000" stroke-width="1"/>
<line x1="132.42" y1="566.25" x2="136.22" y2="566.25" stroke="#000" stroke-width="1"/>
<line x1="132.42" y1="571.05" x2="136.22" y2="571.05" stroke="#000" stroke-width="1"/>
<line x1="154.82" y1="558.15" x2="154.82" y2="564.15" stroke="#000" stroke-width="1"/>
<line x1="152.92" y1="558.15" x2="156.72" y2="558.15" stroke="#000" stroke-width="1"/>
<line x1="152.92" y1="564.15" x2="156.72" y2="564.15" stroke="#000" stroke-width="1"/>
<polyline points="52.3,557.55 62.55,571.65 72.8,577.8 83.06,580.2 93.31,579.3 113.81,573 134.32,568.65 154.82,561.15" fill="none" stroke="#000" stroke-width="1.3"/>
<circle cx="52.3" cy="557.55" r="1.35" fill="#000"/>
<circle cx="62.55" cy="571.65" r="1.35" fill="#000"/>
<circle cx="72.8" cy="577.8" r="1.35" fill="#000"/>
<circle cx="83.06" cy="580.2" r="1.35" fill="#000"/>
<circle cx="93.31" cy="579.3" r="1.35" fill="#000"/>
<circle cx="113.81" cy="573" r="1.35" fill="#000"/>
<circle cx="134.32" cy="568.65" r="1.35" fill="#000"/>
<circle cx="154.82" cy="561.15" r="1.35" fill="#000"/>
<line x1="52.3" y1="535.35" x2="52.3" y2="547.35" stroke="#0230fa" stroke-width="1"/>
<line x1="50.4" y1="535.35" x2="54.2" y2="535.35" stroke="#0230fa" stroke-width="1"/>
<line x1="50.4" y1="547.35" x2="54.2" y2="547.35" stroke="#0230fa" stroke-width="1"/>
<line x1="62.55" y1="549.6" x2="62.55" y2="566.4" stroke="#0230fa" stroke-width="1"/>
<line x1="60.65" y1="549.6" x2="64.45" y2="549.6" stroke="#0230fa" stroke-width="1"/>
<line x1="60.65" y1="566.4" x2="64.45" y2="566.4" stroke="#0230fa" stroke-width="1"/>
<line x1="72.8" y1="557.1" x2="72.8" y2="567.9" stroke="#0230fa" stroke-width="1"/>
<line x1="70.9" y1="557.1" x2="74.7" y2="557.1" stroke="#0230fa" stroke-width="1"/>
<line x1="70.9" y1="567.9" x2="74.7" y2="567.9" stroke="#0230fa" stroke-width="1"/>
<line x1="83.06" y1="557.55" x2="83.06" y2="570.75" stroke="#0230fa" stroke-width="1"/>
<line x1="81.16" y1="557.55" x2="84.96" y2="557.55" stroke="#0230fa" stroke-width="1"/>
<line x1="81.16" y1="570.75" x2="84.96" y2="570.75" stroke="#0230fa" stroke-width="1"/>
<line x1="93.31" y1="559.05" x2="93.31" y2="571.05" stroke="#0230fa" stroke-width="1"/>
<line x1="91.41" y1="559.05" x2="95.21" y2="559.05" stroke="#0230fa" stroke-width="1"/>
<line x1="91.41" y1="571.05" x2="95.21" y2="571.05" stroke="#0230fa" stroke-width="1"/>
<line x1="113.81" y1="549.15" x2="113.81" y2="564.15" stroke="#0230fa" stroke-width="1"/>
<line x1="111.91" y1="549.15" x2="115.72" y2="549.15" stroke="#0230fa" stroke-width="1"/>
<line x1="111.91" y1="564.15" x2="115.72" y2="564.15" stroke="#0230fa" stroke-width="1"/>
<line x1="134.32" y1="548.25" x2="134.32" y2="563.25" stroke="#0230fa" stroke-width="1"/>
<line x1="132.42" y1="548.25" x2="136.22" y2="548.25" stroke="#0230fa" stroke-width="1"/>
<line x1="132.42" y1="563.25" x2="136.22" y2="563.25" stroke="#0230fa" stroke-width="1"/>
<line x1="154.82" y1="544.05" x2="154.82" y2="554.85" stroke="#0230fa" stroke-width="1"/>
<line x1="152.92" y1="544.05" x2="156.72" y2="544.05" stroke="#0230fa" stroke-width="1"/>
<line x1="152.92" y1="554.85" x2="156.72" y2="554.85" stroke="#0230fa" stroke-width="1"/>
<polyline points="52.3,541.35 62.55,558 72.8,562.5 83.06,564.15 93.31,565.05 113.81,556.65 134.32,555.75 154.82,549.45" fill="none" stroke="#0230fa" stroke-width="1.3" stroke-dasharray="3.2 1.6"/>
<circle cx="52.3" cy="541.35" r="1.35" fill="#0230fa"/>
<circle cx="62.55" cy="558" r="1.35" fill="#0230fa"/>
<circle cx="72.8" cy="562.5" r="1.35" fill="#0230fa"/>
<circle cx="83.06" cy="564.15" r="1.35" fill="#0230fa"/>
<circle cx="93.31" cy="565.05" r="1.35" fill="#0230fa"/>
<circle cx="113.81" cy="556.65" r="1.35" fill="#0230fa"/>
<circle cx="134.32" cy="555.75" r="1.35" fill="#0230fa"/>
<circle cx="154.82" cy="549.45" r="1.35" fill="#0230fa"/>
<line x1="52.3" y1="545.1" x2="52.3" y2="549.9" stroke="#000" stroke-width="1"/>
<line x1="50.4" y1="545.1" x2="54.2" y2="545.1" stroke="#000" stroke-width="1"/>
<line x1="50.4" y1="549.9" x2="54.2" y2="549.9" stroke="#000" stroke-width="1"/>
<line x1="62.55" y1="560.25" x2="62.55" y2="567.45" stroke="#000" stroke-width="1"/>
<line x1="60.65" y1="560.25" x2="64.45" y2="560.25" stroke="#000" stroke-width="1"/>
<line x1="60.65" y1="567.45" x2="64.45" y2="567.45" stroke="#000" stroke-width="1"/>
<line x1="72.8" y1="569.25" x2="72.8" y2="574.05" stroke="#000" stroke-width="1"/>
<line x1="70.9" y1="569.25" x2="74.7" y2="569.25" stroke="#000" stroke-width="1"/>
<line x1="70.9" y1="574.05" x2="74.7" y2="574.05" stroke="#000" stroke-width="1"/>
<line x1="83.06" y1="566.25" x2="83.06" y2="571.05" stroke="#000" stroke-width="1"/>
<line x1="81.16" y1="566.25" x2="84.96" y2="566.25" stroke="#000" stroke-width="1"/>
<line x1="81.16" y1="571.05" x2="84.96" y2="571.05" stroke="#000" stroke-width="1"/>
<line x1="93.31" y1="565.65" x2="93.31" y2="571.65" stroke="#000" stroke-width="1"/>
<line x1="91.41" y1="565.65" x2="95.21" y2="565.65" stroke="#000" stroke-width="1"/>
<line x1="91.41" y1="571.65" x2="95.21" y2="571.65" stroke="#000" stroke-width="1"/>
<line x1="113.81" y1="562.05" x2="113.81" y2="569.25" stroke="#000" stroke-width="1"/>
<line x1="111.91" y1="562.05" x2="115.72" y2="562.05" stroke="#000" stroke-width="1"/>
<line x1="111.91" y1="569.25" x2="115.72" y2="569.25" stroke="#000" stroke-width="1"/>
<line x1="134.32" y1="543.3" x2="134.32" y2="551.7" stroke="#000" stroke-width="1"/>
<line x1="132.42" y1="543.3" x2="136.22" y2="543.3" stroke="#000" stroke-width="1"/>
<line x1="132.42" y1="551.7" x2="136.22" y2="551.7" stroke="#000" stroke-width="1"/>
<line x1="154.82" y1="532.65" x2="154.82" y2="539.85" stroke="#000" stroke-width="1"/>
<line x1="152.92" y1="532.65" x2="156.72" y2="532.65" stroke="#000" stroke-width="1"/>
<line x1="152.92" y1="539.85" x2="156.72" y2="539.85" stroke="#000" stroke-width="1"/>
<polyline points="52.3,547.5 62.55,563.85 72.8,571.65 83.06,568.65 93.31,568.65 113.81,565.65 134.32,547.5 154.82,536.25" fill="none" stroke="#000" stroke-width="1.3" stroke-dasharray="3.2 1.6"/>
<rect x="50.7" y="545.9" width="3.2" height="3.2" fill="#000"/>
<rect x="61.35" y="562.65" width="2.4" height="2.4" fill="#fff" stroke="#000" stroke-width="1.15"/>
<rect x="71.2" y="570.05" width="3.2" height="3.2" fill="#000"/>
<rect x="81.46" y="567.05" width="3.2" height="3.2" fill="#000"/>
<rect x="91.71" y="567.05" width="3.2" height="3.2" fill="#000"/>
<rect x="112.22" y="564.05" width="3.2" height="3.2" fill="#000"/>
<rect x="133.12" y="546.3" width="2.4" height="2.4" fill="#fff" stroke="#000" stroke-width="1.15"/>
<rect x="153.62" y="535.05" width="2.4" height="2.4" fill="#fff" stroke="#000" stroke-width="1.15"/>
<text x="35.5" y="565.77" font-size="5.51" text-anchor="middle" transform="rotate(-90 35.5 563.8)">Glucose (mg/dL)</text>
<text x="187.7" y="426.67" font-size="5.51" text-anchor="middle" transform="rotate(-90 187.7 424.7)">Glucose (mg/dL)</text>
<text x="174.3" y="514.34" font-size="15.2" text-anchor="start">P</text>
<text x="260.8" y="514.58" font-size="7.2" text-anchor="middle">ITT</text>
<line x1="217.25" y1="602.1" x2="220.75" y2="602.1" stroke="#000" stroke-width="0.8"/>
<text x="217.15" y="604.28" font-size="6.1" text-anchor="end">0</text>
<line x1="217.25" y1="582.75" x2="220.75" y2="582.75" stroke="#000" stroke-width="0.8"/>
<text x="217.15" y="584.93" font-size="6.1" text-anchor="end">10,000</text>
<line x1="217.25" y1="563.4" x2="220.75" y2="563.4" stroke="#000" stroke-width="0.8"/>
<text x="217.15" y="565.58" font-size="6.1" text-anchor="end">20,000</text>
<line x1="217.25" y1="544.05" x2="220.75" y2="544.05" stroke="#000" stroke-width="0.8"/>
<text x="217.15" y="546.23" font-size="6.1" text-anchor="end">30,000</text>
<line x1="217.25" y1="524.7" x2="220.75" y2="524.7" stroke="#000" stroke-width="0.8"/>
<text x="217.15" y="526.88" font-size="6.1" text-anchor="end">40,000</text>
<line x1="220.75" y1="524.25" x2="220.75" y2="602.6" stroke="#000" stroke-width="1"/>
<rect x="226.25" y="579.65" width="9.9" height="22.45" fill="#fff" stroke="#000" stroke-width="1.3"/>
<rect x="242.35" y="576.65" width="9.9" height="25.45" fill="#0230fa" stroke="#000" stroke-width="1.3"/>
<rect x="268.75" y="561.15" width="9.9" height="40.95" fill="#fff" stroke="#000" stroke-width="1.3"/>
<rect x="284.95" y="569.15" width="9.9" height="32.95" fill="#0230fa" stroke="#000" stroke-width="1.3"/>
<line x1="220.25" y1="602.1" x2="300" y2="602.1" stroke="#000" stroke-width="1"/>
<line x1="239.5" y1="602.1" x2="239.5" y2="604.7" stroke="#000" stroke-width="0.9"/>
<text x="239.5" y="611.45" font-size="6" text-anchor="middle">Control</text>
<line x1="281.8" y1="602.1" x2="281.8" y2="604.7" stroke="#000" stroke-width="0.9"/>
<text x="281.8" y="611.45" font-size="6" text-anchor="middle">HFD</text>
<line x1="231.4" y1="579" x2="231.4" y2="581" stroke="#b4b4b4" stroke-width="0.7"/>
<line x1="229.1" y1="581" x2="233.7" y2="581" stroke="#b4b4b4" stroke-width="0.7"/>
<line x1="231.4" y1="577" x2="231.4" y2="579" stroke="#444" stroke-width="0.75"/>
<line x1="229" y1="577" x2="233.8" y2="577" stroke="#444" stroke-width="0.75"/>
<line x1="247.5" y1="576" x2="247.5" y2="580.5" stroke="#0a2fc0" stroke-width="0.7"/>
<line x1="245.2" y1="580.5" x2="249.8" y2="580.5" stroke="#0a2fc0" stroke-width="0.7"/>
<line x1="247.5" y1="571.5" x2="247.5" y2="576" stroke="#444" stroke-width="0.75"/>
<line x1="245.1" y1="571.5" x2="249.9" y2="571.5" stroke="#444" stroke-width="0.75"/>
<line x1="273.9" y1="560.5" x2="273.9" y2="563.5" stroke="#b4b4b4" stroke-width="0.7"/>
<line x1="271.6" y1="563.5" x2="276.2" y2="563.5" stroke="#b4b4b4" stroke-width="0.7"/>
<line x1="273.9" y1="557.5" x2="273.9" y2="560.5" stroke="#444" stroke-width="0.75"/>
<line x1="271.5" y1="557.5" x2="276.3" y2="557.5" stroke="#444" stroke-width="0.75"/>
<line x1="290.1" y1="568.5" x2="290.1" y2="571" stroke="#0a2fc0" stroke-width="0.7"/>
<line x1="287.8" y1="571" x2="292.4" y2="571" stroke="#0a2fc0" stroke-width="0.7"/>
<line x1="290.1" y1="566" x2="290.1" y2="568.5" stroke="#444" stroke-width="0.75"/>
<line x1="287.7" y1="566" x2="292.5" y2="566" stroke="#444" stroke-width="0.75"/>
<circle cx="228" cy="573" r="1.65" fill="#000"/>
<circle cx="232" cy="575.7" r="1.65" fill="#000"/>
<circle cx="227.3" cy="581.2" r="1.65" fill="#000"/>
<circle cx="236.3" cy="580.5" r="1.65" fill="#000"/>
<circle cx="230.2" cy="582.7" r="1.65" fill="#000"/>
<circle cx="234.3" cy="582.5" r="1.65" fill="#000"/>
<circle cx="247.5" cy="569.5" r="1.65" fill="#000"/>
<circle cx="247.5" cy="576.3" r="1.65" fill="#000"/>
<circle cx="247.5" cy="583" r="1.65" fill="#000"/>
<circle cx="273.8" cy="543.8" r="1.65" fill="#000"/>
<circle cx="273.8" cy="552.5" r="1.65" fill="#000"/>
<circle cx="270" cy="557.5" r="1.65" fill="#000"/>
<circle cx="278" cy="556.3" r="1.65" fill="#000"/>
<circle cx="269.2" cy="562.5" r="1.65" fill="#000"/>
<circle cx="278.9" cy="562.5" r="1.65" fill="#000"/>
<circle cx="269.5" cy="568" r="1.65" fill="#000"/>
<circle cx="278" cy="567" r="1.65" fill="#000"/>
<circle cx="269.5" cy="573.8" r="1.65" fill="#000"/>
<circle cx="277.5" cy="573" r="1.65" fill="#000"/>
<circle cx="290" cy="561.3" r="1.65" fill="#000"/>
<circle cx="286.2" cy="570.5" r="1.65" fill="#000"/>
<circle cx="294.6" cy="570.5" r="1.65" fill="#000"/>
<circle cx="288.2" cy="573" r="1.65" fill="#000"/>
<text x="274.5" y="538.18" font-size="10.6" text-anchor="middle" style="stroke-width:.4px" stroke-linejoin="round">*</text>
<text x="193.8" y="564.98" font-size="6.36" text-anchor="middle" transform="rotate(-90 193.8 562.7)">Area Under the Curve</text>
<text x="328.5" y="514.84" font-size="15.2" text-anchor="start">Q</text>
<text x="398" y="514.86" font-size="7.44" text-anchor="middle">Fasting Insulin</text>
<line x1="354.5" y1="602.6" x2="358" y2="602.6" stroke="#000" stroke-width="0.8"/>
<text x="354.4" y="604.68" font-size="5.8" text-anchor="end">0</text>
<line x1="354.5" y1="576.67" x2="358" y2="576.67" stroke="#000" stroke-width="0.8"/>
<text x="354.4" y="578.74" font-size="5.8" text-anchor="end">1</text>
<line x1="354.5" y1="550.73" x2="358" y2="550.73" stroke="#000" stroke-width="0.8"/>
<text x="354.4" y="552.81" font-size="5.8" text-anchor="end">2</text>
<line x1="354.5" y1="524.8" x2="358" y2="524.8" stroke="#000" stroke-width="0.8"/>
<text x="354.4" y="526.88" font-size="5.8" text-anchor="end">3</text>
<line x1="358" y1="524.35" x2="358" y2="603.1" stroke="#000" stroke-width="1"/>
<rect x="363.95" y="584.65" width="9.2" height="17.95" fill="#fff" stroke="#000" stroke-width="1.3"/>
<rect x="379.65" y="584.65" width="9.2" height="17.95" fill="#0230fa" stroke="#000" stroke-width="1.3"/>
<rect x="406.45" y="557.9" width="9.2" height="44.7" fill="#fff" stroke="#000" stroke-width="1.3"/>
<rect x="422.15" y="560.9" width="9.2" height="41.7" fill="#0230fa" stroke="#000" stroke-width="1.3"/>
<line x1="357.5" y1="602.6" x2="437.5" y2="602.6" stroke="#000" stroke-width="1"/>
<line x1="376.8" y1="602.6" x2="376.8" y2="605.2" stroke="#000" stroke-width="0.9"/>
<text x="376.8" y="611.45" font-size="6" text-anchor="middle">Control</text>
<line x1="419.3" y1="602.6" x2="419.3" y2="605.2" stroke="#000" stroke-width="0.9"/>
<text x="419.3" y="611.45" font-size="6" text-anchor="middle">HFD</text>
<line x1="368.8" y1="584" x2="368.8" y2="587.5" stroke="#b4b4b4" stroke-width="0.7"/>
<line x1="366.5" y1="587.5" x2="371.1" y2="587.5" stroke="#b4b4b4" stroke-width="0.7"/>
<line x1="368.8" y1="580.5" x2="368.8" y2="584" stroke="#444" stroke-width="0.75"/>
<line x1="366.4" y1="580.5" x2="371.2" y2="580.5" stroke="#444" stroke-width="0.75"/>
<line x1="384.5" y1="584" x2="384.5" y2="586.2" stroke="#0a2fc0" stroke-width="0.7"/>
<line x1="382.2" y1="586.2" x2="386.8" y2="586.2" stroke="#0a2fc0" stroke-width="0.7"/>
<line x1="384.5" y1="581.8" x2="384.5" y2="584" stroke="#444" stroke-width="0.75"/>
<line x1="382.1" y1="581.8" x2="386.9" y2="581.8" stroke="#444" stroke-width="0.75"/>
<line x1="411.3" y1="557.25" x2="411.3" y2="563.5" stroke="#b4b4b4" stroke-width="0.7"/>
<line x1="409" y1="563.5" x2="413.6" y2="563.5" stroke="#b4b4b4" stroke-width="0.7"/>
<line x1="411.3" y1="551" x2="411.3" y2="557.25" stroke="#444" stroke-width="0.75"/>
<line x1="408.9" y1="551" x2="413.7" y2="551" stroke="#444" stroke-width="0.75"/>
<line x1="427" y1="560.25" x2="427" y2="566" stroke="#0a2fc0" stroke-width="0.7"/>
<line x1="424.7" y1="566" x2="429.3" y2="566" stroke="#0a2fc0" stroke-width="0.7"/>
<line x1="427" y1="554.5" x2="427" y2="560.25" stroke="#444" stroke-width="0.75"/>
<line x1="424.6" y1="554.5" x2="429.4" y2="554.5" stroke="#444" stroke-width="0.75"/>
<circle cx="369" cy="570.5" r="1.7" fill="#000"/>
<circle cx="369" cy="578" r="1.7" fill="#000"/>
<circle cx="366" cy="586" r="1.7" fill="#000"/>
<circle cx="372" cy="585" r="1.7" fill="#000"/>
<circle cx="366" cy="590.5" r="1.7" fill="#000"/>
<circle cx="371" cy="590" r="1.7" fill="#000"/>
<circle cx="381.5" cy="581.5" r="1.7" fill="#000"/>
<circle cx="388" cy="582" r="1.7" fill="#000"/>
<circle cx="385" cy="588" r="1.7" fill="#000"/>
<circle cx="411.3" cy="533" r="1.7" fill="#000"/>
<circle cx="411.3" cy="539.3" r="1.7" fill="#000"/>
<circle cx="411.5" cy="554" r="1.7" fill="#000"/>
<circle cx="408.5" cy="563.5" r="1.7" fill="#000"/>
<circle cx="414.5" cy="562" r="1.7" fill="#000"/>
<circle cx="411.5" cy="570" r="1.7" fill="#000"/>
<circle cx="411.5" cy="575.5" r="1.7" fill="#000"/>
<circle cx="427" cy="545.5" r="1.7" fill="#000"/>
<circle cx="424.5" cy="562.5" r="1.7" fill="#000"/>
<circle cx="429.5" cy="562" r="1.7" fill="#000"/>
<circle cx="427" cy="572" r="1.7" fill="#000"/>
<text x="411.3" y="526.98" font-size="10.6" text-anchor="middle" style="stroke-width:.4px" stroke-linejoin="round">*</text>
<text x="427" y="538.18" font-size="10.6" text-anchor="middle" style="stroke-width:.4px" stroke-linejoin="round">*</text>
<text x="344.3" y="565.24" font-size="6.27" text-anchor="middle" transform="rotate(-90 344.3 563)">ng/mL</text>
</g>
</svg>
</body></html>
